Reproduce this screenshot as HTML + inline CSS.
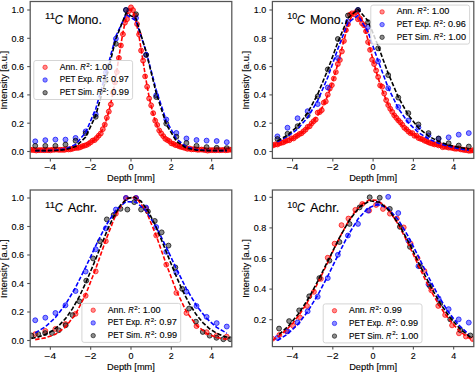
<!DOCTYPE html>
<html><head><meta charset="utf-8"><style>
html,body{margin:0;padding:0;background:#fff;width:475px;height:372px;overflow:hidden}
svg text{font-family:"Liberation Sans", sans-serif}
</style></head><body>
<svg width="475" height="372" viewBox="0 0 475 372" style="display:block">
<defs>
<clipPath id="cTL"><rect x="30.2" y="1.5" width="201.60" height="156.90"/></clipPath>
<clipPath id="cTR"><rect x="272.4" y="1.5" width="201.40" height="156.90"/></clipPath>
<clipPath id="cBL"><rect x="30.2" y="190.0" width="201.60" height="156.80"/></clipPath>
<clipPath id="cBR"><rect x="272.4" y="190.0" width="201.40" height="156.60"/></clipPath>
</defs>
<rect width="475" height="372" fill="#fff"/>
<g clip-path="url(#cTL)">
<circle cx="30.20" cy="149.67" r="2.45" fill="#ff0000" fill-opacity="0.55" stroke="#ff0000" stroke-opacity="0.8" stroke-width="1.0"/>
<circle cx="32.22" cy="149.98" r="2.45" fill="#ff0000" fill-opacity="0.55" stroke="#ff0000" stroke-opacity="0.8" stroke-width="1.0"/>
<circle cx="34.23" cy="150.06" r="2.45" fill="#ff0000" fill-opacity="0.55" stroke="#ff0000" stroke-opacity="0.8" stroke-width="1.0"/>
<circle cx="36.25" cy="150.50" r="2.45" fill="#ff0000" fill-opacity="0.55" stroke="#ff0000" stroke-opacity="0.8" stroke-width="1.0"/>
<circle cx="38.26" cy="150.14" r="2.45" fill="#ff0000" fill-opacity="0.55" stroke="#ff0000" stroke-opacity="0.8" stroke-width="1.0"/>
<circle cx="40.28" cy="150.15" r="2.45" fill="#ff0000" fill-opacity="0.55" stroke="#ff0000" stroke-opacity="0.8" stroke-width="1.0"/>
<circle cx="42.30" cy="150.08" r="2.45" fill="#ff0000" fill-opacity="0.55" stroke="#ff0000" stroke-opacity="0.8" stroke-width="1.0"/>
<circle cx="44.31" cy="150.20" r="2.45" fill="#ff0000" fill-opacity="0.55" stroke="#ff0000" stroke-opacity="0.8" stroke-width="1.0"/>
<circle cx="46.33" cy="150.05" r="2.45" fill="#ff0000" fill-opacity="0.55" stroke="#ff0000" stroke-opacity="0.8" stroke-width="1.0"/>
<circle cx="48.34" cy="150.14" r="2.45" fill="#ff0000" fill-opacity="0.55" stroke="#ff0000" stroke-opacity="0.8" stroke-width="1.0"/>
<circle cx="50.36" cy="150.31" r="2.45" fill="#ff0000" fill-opacity="0.55" stroke="#ff0000" stroke-opacity="0.8" stroke-width="1.0"/>
<circle cx="52.38" cy="149.78" r="2.45" fill="#ff0000" fill-opacity="0.55" stroke="#ff0000" stroke-opacity="0.8" stroke-width="1.0"/>
<circle cx="54.39" cy="149.74" r="2.45" fill="#ff0000" fill-opacity="0.55" stroke="#ff0000" stroke-opacity="0.8" stroke-width="1.0"/>
<circle cx="56.41" cy="149.50" r="2.45" fill="#ff0000" fill-opacity="0.55" stroke="#ff0000" stroke-opacity="0.8" stroke-width="1.0"/>
<circle cx="58.42" cy="149.83" r="2.45" fill="#ff0000" fill-opacity="0.55" stroke="#ff0000" stroke-opacity="0.8" stroke-width="1.0"/>
<circle cx="60.44" cy="149.86" r="2.45" fill="#ff0000" fill-opacity="0.55" stroke="#ff0000" stroke-opacity="0.8" stroke-width="1.0"/>
<circle cx="62.46" cy="149.79" r="2.45" fill="#ff0000" fill-opacity="0.55" stroke="#ff0000" stroke-opacity="0.8" stroke-width="1.0"/>
<circle cx="64.47" cy="149.91" r="2.45" fill="#ff0000" fill-opacity="0.55" stroke="#ff0000" stroke-opacity="0.8" stroke-width="1.0"/>
<circle cx="66.49" cy="149.16" r="2.45" fill="#ff0000" fill-opacity="0.55" stroke="#ff0000" stroke-opacity="0.8" stroke-width="1.0"/>
<circle cx="68.50" cy="149.47" r="2.45" fill="#ff0000" fill-opacity="0.55" stroke="#ff0000" stroke-opacity="0.8" stroke-width="1.0"/>
<circle cx="70.52" cy="149.27" r="2.45" fill="#ff0000" fill-opacity="0.55" stroke="#ff0000" stroke-opacity="0.8" stroke-width="1.0"/>
<circle cx="72.54" cy="148.76" r="2.45" fill="#ff0000" fill-opacity="0.55" stroke="#ff0000" stroke-opacity="0.8" stroke-width="1.0"/>
<circle cx="74.55" cy="148.01" r="2.45" fill="#ff0000" fill-opacity="0.55" stroke="#ff0000" stroke-opacity="0.8" stroke-width="1.0"/>
<circle cx="76.57" cy="147.92" r="2.45" fill="#ff0000" fill-opacity="0.55" stroke="#ff0000" stroke-opacity="0.8" stroke-width="1.0"/>
<circle cx="78.58" cy="147.78" r="2.45" fill="#ff0000" fill-opacity="0.55" stroke="#ff0000" stroke-opacity="0.8" stroke-width="1.0"/>
<circle cx="80.60" cy="147.16" r="2.45" fill="#ff0000" fill-opacity="0.55" stroke="#ff0000" stroke-opacity="0.8" stroke-width="1.0"/>
<circle cx="82.62" cy="146.16" r="2.45" fill="#ff0000" fill-opacity="0.55" stroke="#ff0000" stroke-opacity="0.8" stroke-width="1.0"/>
<circle cx="84.63" cy="145.64" r="2.45" fill="#ff0000" fill-opacity="0.55" stroke="#ff0000" stroke-opacity="0.8" stroke-width="1.0"/>
<circle cx="86.65" cy="144.96" r="2.45" fill="#ff0000" fill-opacity="0.55" stroke="#ff0000" stroke-opacity="0.8" stroke-width="1.0"/>
<circle cx="88.66" cy="143.81" r="2.45" fill="#ff0000" fill-opacity="0.55" stroke="#ff0000" stroke-opacity="0.8" stroke-width="1.0"/>
<circle cx="90.68" cy="142.35" r="2.45" fill="#ff0000" fill-opacity="0.55" stroke="#ff0000" stroke-opacity="0.8" stroke-width="1.0"/>
<circle cx="92.70" cy="140.57" r="2.45" fill="#ff0000" fill-opacity="0.55" stroke="#ff0000" stroke-opacity="0.8" stroke-width="1.0"/>
<circle cx="94.71" cy="140.07" r="2.45" fill="#ff0000" fill-opacity="0.55" stroke="#ff0000" stroke-opacity="0.8" stroke-width="1.0"/>
<circle cx="96.73" cy="137.93" r="2.45" fill="#ff0000" fill-opacity="0.55" stroke="#ff0000" stroke-opacity="0.8" stroke-width="1.0"/>
<circle cx="98.74" cy="135.65" r="2.45" fill="#ff0000" fill-opacity="0.55" stroke="#ff0000" stroke-opacity="0.8" stroke-width="1.0"/>
<circle cx="100.76" cy="133.46" r="2.45" fill="#ff0000" fill-opacity="0.55" stroke="#ff0000" stroke-opacity="0.8" stroke-width="1.0"/>
<circle cx="102.78" cy="129.18" r="2.45" fill="#ff0000" fill-opacity="0.55" stroke="#ff0000" stroke-opacity="0.8" stroke-width="1.0"/>
<circle cx="104.79" cy="124.71" r="2.45" fill="#ff0000" fill-opacity="0.55" stroke="#ff0000" stroke-opacity="0.8" stroke-width="1.0"/>
<circle cx="106.81" cy="117.77" r="2.45" fill="#ff0000" fill-opacity="0.55" stroke="#ff0000" stroke-opacity="0.8" stroke-width="1.0"/>
<circle cx="108.82" cy="111.57" r="2.45" fill="#ff0000" fill-opacity="0.55" stroke="#ff0000" stroke-opacity="0.8" stroke-width="1.0"/>
<circle cx="110.84" cy="104.37" r="2.45" fill="#ff0000" fill-opacity="0.55" stroke="#ff0000" stroke-opacity="0.8" stroke-width="1.0"/>
<circle cx="112.86" cy="92.67" r="2.45" fill="#ff0000" fill-opacity="0.55" stroke="#ff0000" stroke-opacity="0.8" stroke-width="1.0"/>
<circle cx="114.87" cy="82.49" r="2.45" fill="#ff0000" fill-opacity="0.55" stroke="#ff0000" stroke-opacity="0.8" stroke-width="1.0"/>
<circle cx="116.89" cy="72.03" r="2.45" fill="#ff0000" fill-opacity="0.55" stroke="#ff0000" stroke-opacity="0.8" stroke-width="1.0"/>
<circle cx="118.90" cy="58.04" r="2.45" fill="#ff0000" fill-opacity="0.55" stroke="#ff0000" stroke-opacity="0.8" stroke-width="1.0"/>
<circle cx="120.92" cy="45.49" r="2.45" fill="#ff0000" fill-opacity="0.55" stroke="#ff0000" stroke-opacity="0.8" stroke-width="1.0"/>
<circle cx="122.94" cy="34.27" r="2.45" fill="#ff0000" fill-opacity="0.55" stroke="#ff0000" stroke-opacity="0.8" stroke-width="1.0"/>
<circle cx="124.95" cy="22.68" r="2.45" fill="#ff0000" fill-opacity="0.55" stroke="#ff0000" stroke-opacity="0.8" stroke-width="1.0"/>
<circle cx="126.97" cy="19.23" r="2.45" fill="#ff0000" fill-opacity="0.55" stroke="#ff0000" stroke-opacity="0.8" stroke-width="1.0"/>
<circle cx="128.98" cy="10.97" r="2.45" fill="#ff0000" fill-opacity="0.55" stroke="#ff0000" stroke-opacity="0.8" stroke-width="1.0"/>
<circle cx="131.00" cy="7.36" r="2.45" fill="#ff0000" fill-opacity="0.55" stroke="#ff0000" stroke-opacity="0.8" stroke-width="1.0"/>
<circle cx="133.02" cy="10.08" r="2.45" fill="#ff0000" fill-opacity="0.55" stroke="#ff0000" stroke-opacity="0.8" stroke-width="1.0"/>
<circle cx="135.03" cy="15.40" r="2.45" fill="#ff0000" fill-opacity="0.55" stroke="#ff0000" stroke-opacity="0.8" stroke-width="1.0"/>
<circle cx="137.05" cy="24.09" r="2.45" fill="#ff0000" fill-opacity="0.55" stroke="#ff0000" stroke-opacity="0.8" stroke-width="1.0"/>
<circle cx="139.06" cy="34.43" r="2.45" fill="#ff0000" fill-opacity="0.55" stroke="#ff0000" stroke-opacity="0.8" stroke-width="1.0"/>
<circle cx="141.08" cy="50.57" r="2.45" fill="#ff0000" fill-opacity="0.55" stroke="#ff0000" stroke-opacity="0.8" stroke-width="1.0"/>
<circle cx="143.10" cy="60.61" r="2.45" fill="#ff0000" fill-opacity="0.55" stroke="#ff0000" stroke-opacity="0.8" stroke-width="1.0"/>
<circle cx="145.11" cy="76.40" r="2.45" fill="#ff0000" fill-opacity="0.55" stroke="#ff0000" stroke-opacity="0.8" stroke-width="1.0"/>
<circle cx="147.13" cy="86.74" r="2.45" fill="#ff0000" fill-opacity="0.55" stroke="#ff0000" stroke-opacity="0.8" stroke-width="1.0"/>
<circle cx="149.14" cy="98.50" r="2.45" fill="#ff0000" fill-opacity="0.55" stroke="#ff0000" stroke-opacity="0.8" stroke-width="1.0"/>
<circle cx="151.16" cy="105.38" r="2.45" fill="#ff0000" fill-opacity="0.55" stroke="#ff0000" stroke-opacity="0.8" stroke-width="1.0"/>
<circle cx="153.18" cy="113.18" r="2.45" fill="#ff0000" fill-opacity="0.55" stroke="#ff0000" stroke-opacity="0.8" stroke-width="1.0"/>
<circle cx="155.19" cy="120.69" r="2.45" fill="#ff0000" fill-opacity="0.55" stroke="#ff0000" stroke-opacity="0.8" stroke-width="1.0"/>
<circle cx="157.21" cy="124.94" r="2.45" fill="#ff0000" fill-opacity="0.55" stroke="#ff0000" stroke-opacity="0.8" stroke-width="1.0"/>
<circle cx="159.22" cy="130.42" r="2.45" fill="#ff0000" fill-opacity="0.55" stroke="#ff0000" stroke-opacity="0.8" stroke-width="1.0"/>
<circle cx="161.24" cy="133.43" r="2.45" fill="#ff0000" fill-opacity="0.55" stroke="#ff0000" stroke-opacity="0.8" stroke-width="1.0"/>
<circle cx="163.26" cy="136.15" r="2.45" fill="#ff0000" fill-opacity="0.55" stroke="#ff0000" stroke-opacity="0.8" stroke-width="1.0"/>
<circle cx="165.27" cy="138.80" r="2.45" fill="#ff0000" fill-opacity="0.55" stroke="#ff0000" stroke-opacity="0.8" stroke-width="1.0"/>
<circle cx="167.29" cy="140.07" r="2.45" fill="#ff0000" fill-opacity="0.55" stroke="#ff0000" stroke-opacity="0.8" stroke-width="1.0"/>
<circle cx="169.30" cy="141.09" r="2.45" fill="#ff0000" fill-opacity="0.55" stroke="#ff0000" stroke-opacity="0.8" stroke-width="1.0"/>
<circle cx="171.32" cy="143.33" r="2.45" fill="#ff0000" fill-opacity="0.55" stroke="#ff0000" stroke-opacity="0.8" stroke-width="1.0"/>
<circle cx="173.34" cy="143.83" r="2.45" fill="#ff0000" fill-opacity="0.55" stroke="#ff0000" stroke-opacity="0.8" stroke-width="1.0"/>
<circle cx="175.35" cy="145.09" r="2.45" fill="#ff0000" fill-opacity="0.55" stroke="#ff0000" stroke-opacity="0.8" stroke-width="1.0"/>
<circle cx="177.37" cy="145.37" r="2.45" fill="#ff0000" fill-opacity="0.55" stroke="#ff0000" stroke-opacity="0.8" stroke-width="1.0"/>
<circle cx="179.38" cy="146.44" r="2.45" fill="#ff0000" fill-opacity="0.55" stroke="#ff0000" stroke-opacity="0.8" stroke-width="1.0"/>
<circle cx="181.40" cy="146.99" r="2.45" fill="#ff0000" fill-opacity="0.55" stroke="#ff0000" stroke-opacity="0.8" stroke-width="1.0"/>
<circle cx="183.42" cy="147.52" r="2.45" fill="#ff0000" fill-opacity="0.55" stroke="#ff0000" stroke-opacity="0.8" stroke-width="1.0"/>
<circle cx="185.43" cy="148.07" r="2.45" fill="#ff0000" fill-opacity="0.55" stroke="#ff0000" stroke-opacity="0.8" stroke-width="1.0"/>
<circle cx="187.45" cy="148.85" r="2.45" fill="#ff0000" fill-opacity="0.55" stroke="#ff0000" stroke-opacity="0.8" stroke-width="1.0"/>
<circle cx="189.46" cy="148.47" r="2.45" fill="#ff0000" fill-opacity="0.55" stroke="#ff0000" stroke-opacity="0.8" stroke-width="1.0"/>
<circle cx="191.48" cy="149.40" r="2.45" fill="#ff0000" fill-opacity="0.55" stroke="#ff0000" stroke-opacity="0.8" stroke-width="1.0"/>
<circle cx="193.50" cy="149.22" r="2.45" fill="#ff0000" fill-opacity="0.55" stroke="#ff0000" stroke-opacity="0.8" stroke-width="1.0"/>
<circle cx="195.51" cy="149.30" r="2.45" fill="#ff0000" fill-opacity="0.55" stroke="#ff0000" stroke-opacity="0.8" stroke-width="1.0"/>
<circle cx="197.53" cy="149.79" r="2.45" fill="#ff0000" fill-opacity="0.55" stroke="#ff0000" stroke-opacity="0.8" stroke-width="1.0"/>
<circle cx="199.54" cy="149.67" r="2.45" fill="#ff0000" fill-opacity="0.55" stroke="#ff0000" stroke-opacity="0.8" stroke-width="1.0"/>
<circle cx="201.56" cy="149.52" r="2.45" fill="#ff0000" fill-opacity="0.55" stroke="#ff0000" stroke-opacity="0.8" stroke-width="1.0"/>
<circle cx="203.58" cy="149.87" r="2.45" fill="#ff0000" fill-opacity="0.55" stroke="#ff0000" stroke-opacity="0.8" stroke-width="1.0"/>
<circle cx="205.59" cy="150.12" r="2.45" fill="#ff0000" fill-opacity="0.55" stroke="#ff0000" stroke-opacity="0.8" stroke-width="1.0"/>
<circle cx="207.61" cy="150.63" r="2.45" fill="#ff0000" fill-opacity="0.55" stroke="#ff0000" stroke-opacity="0.8" stroke-width="1.0"/>
<circle cx="209.62" cy="150.21" r="2.45" fill="#ff0000" fill-opacity="0.55" stroke="#ff0000" stroke-opacity="0.8" stroke-width="1.0"/>
<circle cx="211.64" cy="150.15" r="2.45" fill="#ff0000" fill-opacity="0.55" stroke="#ff0000" stroke-opacity="0.8" stroke-width="1.0"/>
<circle cx="213.66" cy="150.15" r="2.45" fill="#ff0000" fill-opacity="0.55" stroke="#ff0000" stroke-opacity="0.8" stroke-width="1.0"/>
<circle cx="215.67" cy="150.27" r="2.45" fill="#ff0000" fill-opacity="0.55" stroke="#ff0000" stroke-opacity="0.8" stroke-width="1.0"/>
<circle cx="217.69" cy="149.97" r="2.45" fill="#ff0000" fill-opacity="0.55" stroke="#ff0000" stroke-opacity="0.8" stroke-width="1.0"/>
<circle cx="219.70" cy="150.20" r="2.45" fill="#ff0000" fill-opacity="0.55" stroke="#ff0000" stroke-opacity="0.8" stroke-width="1.0"/>
<circle cx="221.72" cy="150.10" r="2.45" fill="#ff0000" fill-opacity="0.55" stroke="#ff0000" stroke-opacity="0.8" stroke-width="1.0"/>
<circle cx="223.74" cy="149.92" r="2.45" fill="#ff0000" fill-opacity="0.55" stroke="#ff0000" stroke-opacity="0.8" stroke-width="1.0"/>
<circle cx="225.75" cy="150.27" r="2.45" fill="#ff0000" fill-opacity="0.55" stroke="#ff0000" stroke-opacity="0.8" stroke-width="1.0"/>
<circle cx="227.77" cy="150.15" r="2.45" fill="#ff0000" fill-opacity="0.55" stroke="#ff0000" stroke-opacity="0.8" stroke-width="1.0"/>
<circle cx="229.78" cy="149.59" r="2.45" fill="#ff0000" fill-opacity="0.55" stroke="#ff0000" stroke-opacity="0.8" stroke-width="1.0"/>
<circle cx="231.80" cy="149.88" r="2.45" fill="#ff0000" fill-opacity="0.55" stroke="#ff0000" stroke-opacity="0.8" stroke-width="1.0"/>
<circle cx="35.24" cy="141.31" r="2.45" fill="#0000ff" fill-opacity="0.45" stroke="#0000ff" stroke-opacity="0.72" stroke-width="1.0"/>
<circle cx="45.32" cy="140.18" r="2.45" fill="#0000ff" fill-opacity="0.45" stroke="#0000ff" stroke-opacity="0.72" stroke-width="1.0"/>
<circle cx="55.40" cy="139.61" r="2.45" fill="#0000ff" fill-opacity="0.45" stroke="#0000ff" stroke-opacity="0.72" stroke-width="1.0"/>
<circle cx="65.48" cy="139.61" r="2.45" fill="#0000ff" fill-opacity="0.45" stroke="#0000ff" stroke-opacity="0.72" stroke-width="1.0"/>
<circle cx="75.56" cy="137.92" r="2.45" fill="#0000ff" fill-opacity="0.45" stroke="#0000ff" stroke-opacity="0.72" stroke-width="1.0"/>
<circle cx="85.64" cy="131.41" r="2.45" fill="#0000ff" fill-opacity="0.45" stroke="#0000ff" stroke-opacity="0.72" stroke-width="1.0"/>
<circle cx="95.72" cy="114.29" r="2.45" fill="#0000ff" fill-opacity="0.45" stroke="#0000ff" stroke-opacity="0.72" stroke-width="1.0"/>
<circle cx="105.80" cy="72.55" r="2.45" fill="#0000ff" fill-opacity="0.45" stroke="#0000ff" stroke-opacity="0.72" stroke-width="1.0"/>
<circle cx="115.88" cy="38.72" r="2.45" fill="#0000ff" fill-opacity="0.45" stroke="#0000ff" stroke-opacity="0.72" stroke-width="1.0"/>
<circle cx="125.96" cy="10.00" r="2.45" fill="#0000ff" fill-opacity="0.45" stroke="#0000ff" stroke-opacity="0.72" stroke-width="1.0"/>
<circle cx="136.04" cy="18.07" r="2.45" fill="#0000ff" fill-opacity="0.45" stroke="#0000ff" stroke-opacity="0.72" stroke-width="1.0"/>
<circle cx="146.12" cy="54.86" r="2.45" fill="#0000ff" fill-opacity="0.45" stroke="#0000ff" stroke-opacity="0.72" stroke-width="1.0"/>
<circle cx="156.20" cy="95.32" r="2.45" fill="#0000ff" fill-opacity="0.45" stroke="#0000ff" stroke-opacity="0.72" stroke-width="1.0"/>
<circle cx="166.28" cy="119.52" r="2.45" fill="#0000ff" fill-opacity="0.45" stroke="#0000ff" stroke-opacity="0.72" stroke-width="1.0"/>
<circle cx="176.36" cy="132.96" r="2.45" fill="#0000ff" fill-opacity="0.45" stroke="#0000ff" stroke-opacity="0.72" stroke-width="1.0"/>
<circle cx="186.44" cy="138.48" r="2.45" fill="#0000ff" fill-opacity="0.45" stroke="#0000ff" stroke-opacity="0.72" stroke-width="1.0"/>
<circle cx="196.52" cy="140.04" r="2.45" fill="#0000ff" fill-opacity="0.45" stroke="#0000ff" stroke-opacity="0.72" stroke-width="1.0"/>
<circle cx="206.60" cy="140.60" r="2.45" fill="#0000ff" fill-opacity="0.45" stroke="#0000ff" stroke-opacity="0.72" stroke-width="1.0"/>
<circle cx="216.68" cy="141.03" r="2.45" fill="#0000ff" fill-opacity="0.45" stroke="#0000ff" stroke-opacity="0.72" stroke-width="1.0"/>
<circle cx="226.76" cy="142.16" r="2.45" fill="#0000ff" fill-opacity="0.45" stroke="#0000ff" stroke-opacity="0.72" stroke-width="1.0"/>
<circle cx="35.24" cy="145.84" r="2.45" fill="#000000" fill-opacity="0.45" stroke="#000000" stroke-opacity="0.72" stroke-width="1.0"/>
<circle cx="45.32" cy="145.84" r="2.45" fill="#000000" fill-opacity="0.45" stroke="#000000" stroke-opacity="0.72" stroke-width="1.0"/>
<circle cx="55.40" cy="145.84" r="2.45" fill="#000000" fill-opacity="0.45" stroke="#000000" stroke-opacity="0.72" stroke-width="1.0"/>
<circle cx="65.48" cy="144.57" r="2.45" fill="#000000" fill-opacity="0.45" stroke="#000000" stroke-opacity="0.72" stroke-width="1.0"/>
<circle cx="75.56" cy="140.75" r="2.45" fill="#000000" fill-opacity="0.45" stroke="#000000" stroke-opacity="0.72" stroke-width="1.0"/>
<circle cx="85.64" cy="133.25" r="2.45" fill="#000000" fill-opacity="0.45" stroke="#000000" stroke-opacity="0.72" stroke-width="1.0"/>
<circle cx="95.72" cy="116.83" r="2.45" fill="#000000" fill-opacity="0.45" stroke="#000000" stroke-opacity="0.72" stroke-width="1.0"/>
<circle cx="105.80" cy="80.66" r="2.45" fill="#000000" fill-opacity="0.45" stroke="#000000" stroke-opacity="0.72" stroke-width="1.0"/>
<circle cx="115.88" cy="43.82" r="2.45" fill="#000000" fill-opacity="0.45" stroke="#000000" stroke-opacity="0.72" stroke-width="1.0"/>
<circle cx="125.96" cy="10.00" r="2.45" fill="#000000" fill-opacity="0.45" stroke="#000000" stroke-opacity="0.72" stroke-width="1.0"/>
<circle cx="136.04" cy="14.25" r="2.45" fill="#000000" fill-opacity="0.45" stroke="#000000" stroke-opacity="0.72" stroke-width="1.0"/>
<circle cx="146.12" cy="54.86" r="2.45" fill="#000000" fill-opacity="0.45" stroke="#000000" stroke-opacity="0.72" stroke-width="1.0"/>
<circle cx="156.20" cy="97.02" r="2.45" fill="#000000" fill-opacity="0.45" stroke="#000000" stroke-opacity="0.72" stroke-width="1.0"/>
<circle cx="166.28" cy="123.62" r="2.45" fill="#000000" fill-opacity="0.45" stroke="#000000" stroke-opacity="0.72" stroke-width="1.0"/>
<circle cx="176.36" cy="136.78" r="2.45" fill="#000000" fill-opacity="0.45" stroke="#000000" stroke-opacity="0.72" stroke-width="1.0"/>
<circle cx="186.44" cy="143.01" r="2.45" fill="#000000" fill-opacity="0.45" stroke="#000000" stroke-opacity="0.72" stroke-width="1.0"/>
<circle cx="196.52" cy="145.84" r="2.45" fill="#000000" fill-opacity="0.45" stroke="#000000" stroke-opacity="0.72" stroke-width="1.0"/>
<circle cx="206.60" cy="147.11" r="2.45" fill="#000000" fill-opacity="0.45" stroke="#000000" stroke-opacity="0.72" stroke-width="1.0"/>
<circle cx="216.68" cy="147.82" r="2.45" fill="#000000" fill-opacity="0.45" stroke="#000000" stroke-opacity="0.72" stroke-width="1.0"/>
<circle cx="226.76" cy="148.10" r="2.45" fill="#000000" fill-opacity="0.45" stroke="#000000" stroke-opacity="0.72" stroke-width="1.0"/>
<path d="M30.2,150.1 L32.2,150.1 L34.2,150.1 L36.2,150.1 L38.3,150.1 L40.3,150.1 L42.3,150.1 L44.3,150.1 L46.3,150.0 L48.3,150.0 L50.4,150.0 L52.4,150.0 L54.4,149.9 L56.4,149.9 L58.4,149.8 L60.4,149.8 L62.5,149.7 L64.5,149.5 L66.5,149.4 L68.5,149.2 L70.5,149.0 L72.5,148.7 L74.6,148.4 L76.6,148.0 L78.6,147.5 L80.6,147.0 L82.6,146.3 L84.6,145.6 L86.6,144.7 L88.7,143.7 L90.7,142.6 L92.7,141.2 L94.7,139.6 L96.7,137.7 L98.7,135.3 L100.8,132.4 L102.8,128.7 L104.8,124.2 L106.8,118.5 L108.8,111.5 L110.8,103.1 L112.9,93.3 L114.9,82.1 L116.9,70.0 L118.9,57.2 L120.9,44.6 L122.9,32.8 L125.0,22.7 L127.0,15.1 L129.0,10.5 L131.0,9.3 L133.0,11.7 L135.0,17.4 L137.0,26.0 L139.1,36.8 L141.1,49.0 L143.1,61.7 L145.1,74.3 L147.1,86.1 L149.1,96.8 L151.2,106.2 L153.2,114.1 L155.2,120.6 L157.2,125.9 L159.2,130.1 L161.2,133.5 L163.3,136.2 L165.3,138.4 L167.3,140.2 L169.3,141.7 L171.3,143.0 L173.3,144.1 L175.4,145.0 L177.4,145.9 L179.4,146.6 L181.4,147.2 L183.4,147.7 L185.4,148.1 L187.4,148.5 L189.5,148.8 L191.5,149.1 L193.5,149.3 L195.5,149.5 L197.5,149.6 L199.5,149.7 L201.6,149.8 L203.6,149.9 L205.6,149.9 L207.6,150.0 L209.6,150.0 L211.6,150.0 L213.7,150.0 L215.7,150.0 L217.7,150.1 L219.7,150.1 L221.7,150.1 L223.7,150.1 L225.8,150.1 L227.8,150.1 L229.8,150.1 L231.8,150.1" fill="none" stroke="#ff0000" stroke-width="1.6" stroke-dasharray="4.4 1.9" stroke-linejoin="round"/>
<path d="M35.2,150.6 L45.3,150.6 L55.4,150.3 L65.5,148.9 L75.6,144.4 L85.6,132.6 L95.7,109.0 L105.8,73.5 L115.9,36.1 L126.0,14.4 L136.0,20.8 L146.1,51.4 L156.2,89.9 L166.3,120.8 L176.4,138.9 L186.4,146.9 L196.5,149.7 L206.6,150.5 L216.7,150.6 L226.8,150.6" fill="none" stroke="#0000ff" stroke-width="1.6" stroke-dasharray="4.4 1.9" stroke-linejoin="round"/>
<path d="M35.2,150.6 L45.3,150.6 L55.4,150.5 L65.5,149.7 L75.6,146.6 L85.6,137.1 L95.7,115.6 L105.8,79.7 L115.9,38.8 L126.0,13.0 L136.0,18.6 L146.1,51.8 L156.2,93.0 L166.3,124.4 L176.4,141.3 L186.4,148.1 L196.5,150.1 L206.6,150.6 L216.7,150.6 L226.8,150.6" fill="none" stroke="#000000" stroke-width="1.6" stroke-dasharray="4.4 1.9" stroke-linejoin="round"/>
</g>
<rect x="30.2" y="1.5" width="201.60" height="156.90" fill="none" stroke="#555" stroke-width="1.25"/>
<line x1="50.36" y1="158.4" x2="50.36" y2="161.4" stroke="#555" stroke-width="1.1"/>
<text x="50.36" y="170.40" font-size="8.32" textLength="11.57" lengthAdjust="spacingAndGlyphs" text-anchor="middle" fill="#000" stroke="#000" stroke-width="0.12">−4</text>
<line x1="90.68" y1="158.4" x2="90.68" y2="161.4" stroke="#555" stroke-width="1.1"/>
<text x="90.68" y="170.40" font-size="8.32" textLength="11.57" lengthAdjust="spacingAndGlyphs" text-anchor="middle" fill="#000" stroke="#000" stroke-width="0.12">−2</text>
<line x1="131.00" y1="158.4" x2="131.00" y2="161.4" stroke="#555" stroke-width="1.1"/>
<text x="131.00" y="170.40" font-size="8.32" textLength="4.99" lengthAdjust="spacingAndGlyphs" text-anchor="middle" fill="#000" stroke="#000" stroke-width="0.12">0</text>
<line x1="171.32" y1="158.4" x2="171.32" y2="161.4" stroke="#555" stroke-width="1.1"/>
<text x="171.32" y="170.40" font-size="8.32" textLength="4.99" lengthAdjust="spacingAndGlyphs" text-anchor="middle" fill="#000" stroke="#000" stroke-width="0.12">2</text>
<line x1="211.64" y1="158.4" x2="211.64" y2="161.4" stroke="#555" stroke-width="1.1"/>
<text x="211.64" y="170.40" font-size="8.32" textLength="4.99" lengthAdjust="spacingAndGlyphs" text-anchor="middle" fill="#000" stroke="#000" stroke-width="0.12">4</text>
<line x1="27.2" y1="151.50" x2="30.2" y2="151.50" stroke="#555" stroke-width="1.1"/>
<text x="24.10" y="154.80" font-size="8.32" textLength="12.48" lengthAdjust="spacingAndGlyphs" text-anchor="end" fill="#000" stroke="#000" stroke-width="0.12">0.0</text>
<line x1="27.2" y1="123.20" x2="30.2" y2="123.20" stroke="#555" stroke-width="1.1"/>
<text x="24.10" y="126.50" font-size="8.32" textLength="12.48" lengthAdjust="spacingAndGlyphs" text-anchor="end" fill="#000" stroke="#000" stroke-width="0.12">0.2</text>
<line x1="27.2" y1="94.90" x2="30.2" y2="94.90" stroke="#555" stroke-width="1.1"/>
<text x="24.10" y="98.20" font-size="8.32" textLength="12.48" lengthAdjust="spacingAndGlyphs" text-anchor="end" fill="#000" stroke="#000" stroke-width="0.12">0.4</text>
<line x1="27.2" y1="66.60" x2="30.2" y2="66.60" stroke="#555" stroke-width="1.1"/>
<text x="24.10" y="69.90" font-size="8.32" textLength="12.48" lengthAdjust="spacingAndGlyphs" text-anchor="end" fill="#000" stroke="#000" stroke-width="0.12">0.6</text>
<line x1="27.2" y1="38.30" x2="30.2" y2="38.30" stroke="#555" stroke-width="1.1"/>
<text x="24.10" y="41.60" font-size="8.32" textLength="12.48" lengthAdjust="spacingAndGlyphs" text-anchor="end" fill="#000" stroke="#000" stroke-width="0.12">0.8</text>
<line x1="27.2" y1="10.00" x2="30.2" y2="10.00" stroke="#555" stroke-width="1.1"/>
<text x="24.10" y="13.30" font-size="8.32" textLength="12.48" lengthAdjust="spacingAndGlyphs" text-anchor="end" fill="#000" stroke="#000" stroke-width="0.12">1.0</text>
<text x="131.00" y="181.40" font-size="8.32" textLength="47.82" lengthAdjust="spacingAndGlyphs" text-anchor="middle" fill="#000" stroke="#000" stroke-width="0.12">Depth [mm]</text>
<text transform="translate(6.80,80.15) rotate(-90)" x="0" y="0" text-anchor="middle" font-size="8.32" textLength="58.72" lengthAdjust="spacingAndGlyphs" fill="#000" stroke="#000" stroke-width="0.12">Intensity [a.u.]</text>
<text x="45.10" y="19.20" font-size="8.32" textLength="9.99" lengthAdjust="spacingAndGlyphs" fill="#000" stroke="#000" stroke-width="0.12">11</text>
<text x="54.70" y="23.50" font-size="12.19" textLength="8.03" lengthAdjust="spacingAndGlyphs" font-style="italic" fill="#000" stroke="#000" stroke-width="0.12">C</text>
<text x="67.70" y="23.50" font-size="11.98" textLength="34.13" lengthAdjust="spacingAndGlyphs" fill="#000" stroke="#000" stroke-width="0.12">Mono.</text>
<rect x="33.8" y="60.5" width="98.8" height="39" rx="2.2" ry="2.2" fill="#fff" fill-opacity="0.8" stroke="#d0d0d0" stroke-width="0.9"/>
<circle cx="45.10" cy="67.30" r="2.2" fill="#ff0000" fill-opacity="0.45" stroke="#ff0000" stroke-opacity="0.72" stroke-width="0.8"/>
<text x="59.70" y="69.70" font-size="8.37" textLength="17.93" lengthAdjust="spacingAndGlyphs" fill="#000" stroke="#000" stroke-width="0.12">Ann.</text>
<text x="80.14" y="69.70" font-size="8.37" textLength="5.49" lengthAdjust="spacingAndGlyphs" font-style="italic" fill="#000" stroke="#000" stroke-width="0.12">R</text>
<text x="86.23" y="66.64" font-size="5.71" textLength="3.43" lengthAdjust="spacingAndGlyphs" fill="#000" stroke="#000" stroke-width="0.12">2</text>
<text x="89.66" y="69.70" font-size="8.37" textLength="22.76" lengthAdjust="spacingAndGlyphs" fill="#000" stroke="#000" stroke-width="0.12">: 1.00</text>
<circle cx="45.10" cy="80.00" r="2.2" fill="#0000ff" fill-opacity="0.45" stroke="#0000ff" stroke-opacity="0.72" stroke-width="0.8"/>
<text x="59.70" y="82.40" font-size="8.37" textLength="34.29" lengthAdjust="spacingAndGlyphs" fill="#000" stroke="#000" stroke-width="0.12">PET Exp.</text>
<text x="96.50" y="82.40" font-size="8.37" textLength="5.49" lengthAdjust="spacingAndGlyphs" font-style="italic" fill="#000" stroke="#000" stroke-width="0.12">R</text>
<text x="102.59" y="79.34" font-size="5.71" textLength="3.43" lengthAdjust="spacingAndGlyphs" fill="#000" stroke="#000" stroke-width="0.12">2</text>
<text x="106.01" y="82.40" font-size="8.37" textLength="22.76" lengthAdjust="spacingAndGlyphs" fill="#000" stroke="#000" stroke-width="0.12">: 0.97</text>
<circle cx="45.10" cy="92.70" r="2.2" fill="#000000" fill-opacity="0.45" stroke="#000000" stroke-opacity="0.72" stroke-width="0.8"/>
<text x="59.70" y="95.10" font-size="8.37" textLength="34.51" lengthAdjust="spacingAndGlyphs" fill="#000" stroke="#000" stroke-width="0.12">PET Sim.</text>
<text x="96.72" y="95.10" font-size="8.37" textLength="5.49" lengthAdjust="spacingAndGlyphs" font-style="italic" fill="#000" stroke="#000" stroke-width="0.12">R</text>
<text x="102.81" y="92.04" font-size="5.71" textLength="3.43" lengthAdjust="spacingAndGlyphs" fill="#000" stroke="#000" stroke-width="0.12">2</text>
<text x="106.24" y="95.10" font-size="8.37" textLength="22.76" lengthAdjust="spacingAndGlyphs" fill="#000" stroke="#000" stroke-width="0.12">: 0.99</text>
<g clip-path="url(#cTR)">
<circle cx="271.39" cy="145.79" r="2.45" fill="#ff0000" fill-opacity="0.55" stroke="#ff0000" stroke-opacity="0.8" stroke-width="1.0"/>
<circle cx="273.41" cy="145.27" r="2.45" fill="#ff0000" fill-opacity="0.55" stroke="#ff0000" stroke-opacity="0.8" stroke-width="1.0"/>
<circle cx="275.42" cy="144.34" r="2.45" fill="#ff0000" fill-opacity="0.55" stroke="#ff0000" stroke-opacity="0.8" stroke-width="1.0"/>
<circle cx="277.44" cy="144.48" r="2.45" fill="#ff0000" fill-opacity="0.55" stroke="#ff0000" stroke-opacity="0.8" stroke-width="1.0"/>
<circle cx="279.45" cy="143.32" r="2.45" fill="#ff0000" fill-opacity="0.55" stroke="#ff0000" stroke-opacity="0.8" stroke-width="1.0"/>
<circle cx="281.46" cy="142.78" r="2.45" fill="#ff0000" fill-opacity="0.55" stroke="#ff0000" stroke-opacity="0.8" stroke-width="1.0"/>
<circle cx="283.48" cy="142.31" r="2.45" fill="#ff0000" fill-opacity="0.55" stroke="#ff0000" stroke-opacity="0.8" stroke-width="1.0"/>
<circle cx="285.49" cy="141.13" r="2.45" fill="#ff0000" fill-opacity="0.55" stroke="#ff0000" stroke-opacity="0.8" stroke-width="1.0"/>
<circle cx="287.50" cy="140.46" r="2.45" fill="#ff0000" fill-opacity="0.55" stroke="#ff0000" stroke-opacity="0.8" stroke-width="1.0"/>
<circle cx="289.52" cy="140.21" r="2.45" fill="#ff0000" fill-opacity="0.55" stroke="#ff0000" stroke-opacity="0.8" stroke-width="1.0"/>
<circle cx="291.53" cy="138.33" r="2.45" fill="#ff0000" fill-opacity="0.55" stroke="#ff0000" stroke-opacity="0.8" stroke-width="1.0"/>
<circle cx="293.55" cy="138.46" r="2.45" fill="#ff0000" fill-opacity="0.55" stroke="#ff0000" stroke-opacity="0.8" stroke-width="1.0"/>
<circle cx="295.56" cy="136.69" r="2.45" fill="#ff0000" fill-opacity="0.55" stroke="#ff0000" stroke-opacity="0.8" stroke-width="1.0"/>
<circle cx="297.57" cy="135.52" r="2.45" fill="#ff0000" fill-opacity="0.55" stroke="#ff0000" stroke-opacity="0.8" stroke-width="1.0"/>
<circle cx="299.59" cy="133.96" r="2.45" fill="#ff0000" fill-opacity="0.55" stroke="#ff0000" stroke-opacity="0.8" stroke-width="1.0"/>
<circle cx="301.60" cy="133.25" r="2.45" fill="#ff0000" fill-opacity="0.55" stroke="#ff0000" stroke-opacity="0.8" stroke-width="1.0"/>
<circle cx="303.62" cy="131.26" r="2.45" fill="#ff0000" fill-opacity="0.55" stroke="#ff0000" stroke-opacity="0.8" stroke-width="1.0"/>
<circle cx="305.63" cy="129.64" r="2.45" fill="#ff0000" fill-opacity="0.55" stroke="#ff0000" stroke-opacity="0.8" stroke-width="1.0"/>
<circle cx="307.64" cy="126.96" r="2.45" fill="#ff0000" fill-opacity="0.55" stroke="#ff0000" stroke-opacity="0.8" stroke-width="1.0"/>
<circle cx="309.66" cy="126.28" r="2.45" fill="#ff0000" fill-opacity="0.55" stroke="#ff0000" stroke-opacity="0.8" stroke-width="1.0"/>
<circle cx="311.67" cy="123.37" r="2.45" fill="#ff0000" fill-opacity="0.55" stroke="#ff0000" stroke-opacity="0.8" stroke-width="1.0"/>
<circle cx="313.69" cy="121.21" r="2.45" fill="#ff0000" fill-opacity="0.55" stroke="#ff0000" stroke-opacity="0.8" stroke-width="1.0"/>
<circle cx="315.70" cy="119.51" r="2.45" fill="#ff0000" fill-opacity="0.55" stroke="#ff0000" stroke-opacity="0.8" stroke-width="1.0"/>
<circle cx="317.71" cy="112.61" r="2.45" fill="#ff0000" fill-opacity="0.55" stroke="#ff0000" stroke-opacity="0.8" stroke-width="1.0"/>
<circle cx="319.73" cy="112.11" r="2.45" fill="#ff0000" fill-opacity="0.55" stroke="#ff0000" stroke-opacity="0.8" stroke-width="1.0"/>
<circle cx="321.74" cy="110.14" r="2.45" fill="#ff0000" fill-opacity="0.55" stroke="#ff0000" stroke-opacity="0.8" stroke-width="1.0"/>
<circle cx="323.76" cy="102.68" r="2.45" fill="#ff0000" fill-opacity="0.55" stroke="#ff0000" stroke-opacity="0.8" stroke-width="1.0"/>
<circle cx="325.77" cy="101.48" r="2.45" fill="#ff0000" fill-opacity="0.55" stroke="#ff0000" stroke-opacity="0.8" stroke-width="1.0"/>
<circle cx="327.78" cy="94.67" r="2.45" fill="#ff0000" fill-opacity="0.55" stroke="#ff0000" stroke-opacity="0.8" stroke-width="1.0"/>
<circle cx="329.80" cy="88.55" r="2.45" fill="#ff0000" fill-opacity="0.55" stroke="#ff0000" stroke-opacity="0.8" stroke-width="1.0"/>
<circle cx="331.81" cy="85.20" r="2.45" fill="#ff0000" fill-opacity="0.55" stroke="#ff0000" stroke-opacity="0.8" stroke-width="1.0"/>
<circle cx="333.83" cy="78.60" r="2.45" fill="#ff0000" fill-opacity="0.55" stroke="#ff0000" stroke-opacity="0.8" stroke-width="1.0"/>
<circle cx="335.84" cy="72.09" r="2.45" fill="#ff0000" fill-opacity="0.55" stroke="#ff0000" stroke-opacity="0.8" stroke-width="1.0"/>
<circle cx="337.85" cy="64.07" r="2.45" fill="#ff0000" fill-opacity="0.55" stroke="#ff0000" stroke-opacity="0.8" stroke-width="1.0"/>
<circle cx="339.87" cy="59.96" r="2.45" fill="#ff0000" fill-opacity="0.55" stroke="#ff0000" stroke-opacity="0.8" stroke-width="1.0"/>
<circle cx="341.88" cy="51.48" r="2.45" fill="#ff0000" fill-opacity="0.55" stroke="#ff0000" stroke-opacity="0.8" stroke-width="1.0"/>
<circle cx="343.90" cy="40.98" r="2.45" fill="#ff0000" fill-opacity="0.55" stroke="#ff0000" stroke-opacity="0.8" stroke-width="1.0"/>
<circle cx="345.91" cy="30.14" r="2.45" fill="#ff0000" fill-opacity="0.55" stroke="#ff0000" stroke-opacity="0.8" stroke-width="1.0"/>
<circle cx="347.92" cy="24.26" r="2.45" fill="#ff0000" fill-opacity="0.55" stroke="#ff0000" stroke-opacity="0.8" stroke-width="1.0"/>
<circle cx="349.94" cy="14.81" r="2.45" fill="#ff0000" fill-opacity="0.55" stroke="#ff0000" stroke-opacity="0.8" stroke-width="1.0"/>
<circle cx="351.95" cy="13.35" r="2.45" fill="#ff0000" fill-opacity="0.55" stroke="#ff0000" stroke-opacity="0.8" stroke-width="1.0"/>
<circle cx="353.97" cy="14.33" r="2.45" fill="#ff0000" fill-opacity="0.55" stroke="#ff0000" stroke-opacity="0.8" stroke-width="1.0"/>
<circle cx="355.98" cy="12.07" r="2.45" fill="#ff0000" fill-opacity="0.55" stroke="#ff0000" stroke-opacity="0.8" stroke-width="1.0"/>
<circle cx="357.99" cy="19.29" r="2.45" fill="#ff0000" fill-opacity="0.55" stroke="#ff0000" stroke-opacity="0.8" stroke-width="1.0"/>
<circle cx="360.01" cy="18.65" r="2.45" fill="#ff0000" fill-opacity="0.55" stroke="#ff0000" stroke-opacity="0.8" stroke-width="1.0"/>
<circle cx="362.02" cy="23.33" r="2.45" fill="#ff0000" fill-opacity="0.55" stroke="#ff0000" stroke-opacity="0.8" stroke-width="1.0"/>
<circle cx="364.04" cy="25.32" r="2.45" fill="#ff0000" fill-opacity="0.55" stroke="#ff0000" stroke-opacity="0.8" stroke-width="1.0"/>
<circle cx="366.05" cy="31.24" r="2.45" fill="#ff0000" fill-opacity="0.55" stroke="#ff0000" stroke-opacity="0.8" stroke-width="1.0"/>
<circle cx="368.06" cy="42.09" r="2.45" fill="#ff0000" fill-opacity="0.55" stroke="#ff0000" stroke-opacity="0.8" stroke-width="1.0"/>
<circle cx="370.08" cy="49.87" r="2.45" fill="#ff0000" fill-opacity="0.55" stroke="#ff0000" stroke-opacity="0.8" stroke-width="1.0"/>
<circle cx="372.09" cy="59.77" r="2.45" fill="#ff0000" fill-opacity="0.55" stroke="#ff0000" stroke-opacity="0.8" stroke-width="1.0"/>
<circle cx="374.11" cy="64.06" r="2.45" fill="#ff0000" fill-opacity="0.55" stroke="#ff0000" stroke-opacity="0.8" stroke-width="1.0"/>
<circle cx="376.12" cy="70.52" r="2.45" fill="#ff0000" fill-opacity="0.55" stroke="#ff0000" stroke-opacity="0.8" stroke-width="1.0"/>
<circle cx="378.13" cy="76.98" r="2.45" fill="#ff0000" fill-opacity="0.55" stroke="#ff0000" stroke-opacity="0.8" stroke-width="1.0"/>
<circle cx="380.15" cy="85.42" r="2.45" fill="#ff0000" fill-opacity="0.55" stroke="#ff0000" stroke-opacity="0.8" stroke-width="1.0"/>
<circle cx="382.16" cy="86.78" r="2.45" fill="#ff0000" fill-opacity="0.55" stroke="#ff0000" stroke-opacity="0.8" stroke-width="1.0"/>
<circle cx="384.18" cy="93.47" r="2.45" fill="#ff0000" fill-opacity="0.55" stroke="#ff0000" stroke-opacity="0.8" stroke-width="1.0"/>
<circle cx="386.19" cy="100.16" r="2.45" fill="#ff0000" fill-opacity="0.55" stroke="#ff0000" stroke-opacity="0.8" stroke-width="1.0"/>
<circle cx="388.20" cy="105.09" r="2.45" fill="#ff0000" fill-opacity="0.55" stroke="#ff0000" stroke-opacity="0.8" stroke-width="1.0"/>
<circle cx="390.22" cy="108.79" r="2.45" fill="#ff0000" fill-opacity="0.55" stroke="#ff0000" stroke-opacity="0.8" stroke-width="1.0"/>
<circle cx="392.23" cy="111.87" r="2.45" fill="#ff0000" fill-opacity="0.55" stroke="#ff0000" stroke-opacity="0.8" stroke-width="1.0"/>
<circle cx="394.25" cy="115.33" r="2.45" fill="#ff0000" fill-opacity="0.55" stroke="#ff0000" stroke-opacity="0.8" stroke-width="1.0"/>
<circle cx="396.26" cy="117.82" r="2.45" fill="#ff0000" fill-opacity="0.55" stroke="#ff0000" stroke-opacity="0.8" stroke-width="1.0"/>
<circle cx="398.27" cy="120.30" r="2.45" fill="#ff0000" fill-opacity="0.55" stroke="#ff0000" stroke-opacity="0.8" stroke-width="1.0"/>
<circle cx="400.29" cy="122.30" r="2.45" fill="#ff0000" fill-opacity="0.55" stroke="#ff0000" stroke-opacity="0.8" stroke-width="1.0"/>
<circle cx="402.30" cy="124.76" r="2.45" fill="#ff0000" fill-opacity="0.55" stroke="#ff0000" stroke-opacity="0.8" stroke-width="1.0"/>
<circle cx="404.32" cy="127.77" r="2.45" fill="#ff0000" fill-opacity="0.55" stroke="#ff0000" stroke-opacity="0.8" stroke-width="1.0"/>
<circle cx="406.33" cy="129.27" r="2.45" fill="#ff0000" fill-opacity="0.55" stroke="#ff0000" stroke-opacity="0.8" stroke-width="1.0"/>
<circle cx="408.34" cy="131.49" r="2.45" fill="#ff0000" fill-opacity="0.55" stroke="#ff0000" stroke-opacity="0.8" stroke-width="1.0"/>
<circle cx="410.36" cy="133.16" r="2.45" fill="#ff0000" fill-opacity="0.55" stroke="#ff0000" stroke-opacity="0.8" stroke-width="1.0"/>
<circle cx="412.37" cy="133.08" r="2.45" fill="#ff0000" fill-opacity="0.55" stroke="#ff0000" stroke-opacity="0.8" stroke-width="1.0"/>
<circle cx="414.39" cy="135.78" r="2.45" fill="#ff0000" fill-opacity="0.55" stroke="#ff0000" stroke-opacity="0.8" stroke-width="1.0"/>
<circle cx="416.40" cy="135.65" r="2.45" fill="#ff0000" fill-opacity="0.55" stroke="#ff0000" stroke-opacity="0.8" stroke-width="1.0"/>
<circle cx="418.41" cy="138.01" r="2.45" fill="#ff0000" fill-opacity="0.55" stroke="#ff0000" stroke-opacity="0.8" stroke-width="1.0"/>
<circle cx="420.43" cy="138.73" r="2.45" fill="#ff0000" fill-opacity="0.55" stroke="#ff0000" stroke-opacity="0.8" stroke-width="1.0"/>
<circle cx="422.44" cy="139.29" r="2.45" fill="#ff0000" fill-opacity="0.55" stroke="#ff0000" stroke-opacity="0.8" stroke-width="1.0"/>
<circle cx="424.46" cy="140.67" r="2.45" fill="#ff0000" fill-opacity="0.55" stroke="#ff0000" stroke-opacity="0.8" stroke-width="1.0"/>
<circle cx="426.47" cy="141.32" r="2.45" fill="#ff0000" fill-opacity="0.55" stroke="#ff0000" stroke-opacity="0.8" stroke-width="1.0"/>
<circle cx="428.48" cy="142.34" r="2.45" fill="#ff0000" fill-opacity="0.55" stroke="#ff0000" stroke-opacity="0.8" stroke-width="1.0"/>
<circle cx="430.50" cy="143.14" r="2.45" fill="#ff0000" fill-opacity="0.55" stroke="#ff0000" stroke-opacity="0.8" stroke-width="1.0"/>
<circle cx="432.51" cy="143.67" r="2.45" fill="#ff0000" fill-opacity="0.55" stroke="#ff0000" stroke-opacity="0.8" stroke-width="1.0"/>
<circle cx="434.53" cy="144.45" r="2.45" fill="#ff0000" fill-opacity="0.55" stroke="#ff0000" stroke-opacity="0.8" stroke-width="1.0"/>
<circle cx="436.54" cy="144.19" r="2.45" fill="#ff0000" fill-opacity="0.55" stroke="#ff0000" stroke-opacity="0.8" stroke-width="1.0"/>
<circle cx="438.55" cy="145.37" r="2.45" fill="#ff0000" fill-opacity="0.55" stroke="#ff0000" stroke-opacity="0.8" stroke-width="1.0"/>
<circle cx="440.57" cy="145.23" r="2.45" fill="#ff0000" fill-opacity="0.55" stroke="#ff0000" stroke-opacity="0.8" stroke-width="1.0"/>
<circle cx="442.58" cy="147.16" r="2.45" fill="#ff0000" fill-opacity="0.55" stroke="#ff0000" stroke-opacity="0.8" stroke-width="1.0"/>
<circle cx="444.60" cy="146.72" r="2.45" fill="#ff0000" fill-opacity="0.55" stroke="#ff0000" stroke-opacity="0.8" stroke-width="1.0"/>
<circle cx="446.61" cy="146.96" r="2.45" fill="#ff0000" fill-opacity="0.55" stroke="#ff0000" stroke-opacity="0.8" stroke-width="1.0"/>
<circle cx="448.62" cy="147.62" r="2.45" fill="#ff0000" fill-opacity="0.55" stroke="#ff0000" stroke-opacity="0.8" stroke-width="1.0"/>
<circle cx="450.64" cy="147.57" r="2.45" fill="#ff0000" fill-opacity="0.55" stroke="#ff0000" stroke-opacity="0.8" stroke-width="1.0"/>
<circle cx="452.65" cy="148.06" r="2.45" fill="#ff0000" fill-opacity="0.55" stroke="#ff0000" stroke-opacity="0.8" stroke-width="1.0"/>
<circle cx="454.67" cy="148.64" r="2.45" fill="#ff0000" fill-opacity="0.55" stroke="#ff0000" stroke-opacity="0.8" stroke-width="1.0"/>
<circle cx="456.68" cy="148.76" r="2.45" fill="#ff0000" fill-opacity="0.55" stroke="#ff0000" stroke-opacity="0.8" stroke-width="1.0"/>
<circle cx="458.69" cy="148.43" r="2.45" fill="#ff0000" fill-opacity="0.55" stroke="#ff0000" stroke-opacity="0.8" stroke-width="1.0"/>
<circle cx="460.71" cy="149.38" r="2.45" fill="#ff0000" fill-opacity="0.55" stroke="#ff0000" stroke-opacity="0.8" stroke-width="1.0"/>
<circle cx="462.72" cy="149.63" r="2.45" fill="#ff0000" fill-opacity="0.55" stroke="#ff0000" stroke-opacity="0.8" stroke-width="1.0"/>
<circle cx="464.74" cy="150.06" r="2.45" fill="#ff0000" fill-opacity="0.55" stroke="#ff0000" stroke-opacity="0.8" stroke-width="1.0"/>
<circle cx="466.75" cy="150.16" r="2.45" fill="#ff0000" fill-opacity="0.55" stroke="#ff0000" stroke-opacity="0.8" stroke-width="1.0"/>
<circle cx="468.76" cy="150.72" r="2.45" fill="#ff0000" fill-opacity="0.55" stroke="#ff0000" stroke-opacity="0.8" stroke-width="1.0"/>
<circle cx="470.78" cy="150.67" r="2.45" fill="#ff0000" fill-opacity="0.55" stroke="#ff0000" stroke-opacity="0.8" stroke-width="1.0"/>
<circle cx="472.79" cy="150.27" r="2.45" fill="#ff0000" fill-opacity="0.55" stroke="#ff0000" stroke-opacity="0.8" stroke-width="1.0"/>
<circle cx="474.81" cy="150.78" r="2.45" fill="#ff0000" fill-opacity="0.55" stroke="#ff0000" stroke-opacity="0.8" stroke-width="1.0"/>
<circle cx="277.44" cy="136.36" r="2.45" fill="#0000ff" fill-opacity="0.45" stroke="#0000ff" stroke-opacity="0.72" stroke-width="1.0"/>
<circle cx="287.50" cy="127.73" r="2.45" fill="#0000ff" fill-opacity="0.45" stroke="#0000ff" stroke-opacity="0.72" stroke-width="1.0"/>
<circle cx="297.58" cy="118.25" r="2.45" fill="#0000ff" fill-opacity="0.45" stroke="#0000ff" stroke-opacity="0.72" stroke-width="1.0"/>
<circle cx="307.65" cy="111.17" r="2.45" fill="#0000ff" fill-opacity="0.45" stroke="#0000ff" stroke-opacity="0.72" stroke-width="1.0"/>
<circle cx="317.72" cy="104.10" r="2.45" fill="#0000ff" fill-opacity="0.45" stroke="#0000ff" stroke-opacity="0.72" stroke-width="1.0"/>
<circle cx="327.79" cy="87.54" r="2.45" fill="#0000ff" fill-opacity="0.45" stroke="#0000ff" stroke-opacity="0.72" stroke-width="1.0"/>
<circle cx="337.86" cy="58.11" r="2.45" fill="#0000ff" fill-opacity="0.45" stroke="#0000ff" stroke-opacity="0.72" stroke-width="1.0"/>
<circle cx="347.93" cy="21.46" r="2.45" fill="#0000ff" fill-opacity="0.45" stroke="#0000ff" stroke-opacity="0.72" stroke-width="1.0"/>
<circle cx="358.00" cy="10.00" r="2.45" fill="#0000ff" fill-opacity="0.45" stroke="#0000ff" stroke-opacity="0.72" stroke-width="1.0"/>
<circle cx="368.06" cy="26.98" r="2.45" fill="#0000ff" fill-opacity="0.45" stroke="#0000ff" stroke-opacity="0.72" stroke-width="1.0"/>
<circle cx="378.14" cy="61.36" r="2.45" fill="#0000ff" fill-opacity="0.45" stroke="#0000ff" stroke-opacity="0.72" stroke-width="1.0"/>
<circle cx="388.21" cy="88.25" r="2.45" fill="#0000ff" fill-opacity="0.45" stroke="#0000ff" stroke-opacity="0.72" stroke-width="1.0"/>
<circle cx="398.28" cy="107.07" r="2.45" fill="#0000ff" fill-opacity="0.45" stroke="#0000ff" stroke-opacity="0.72" stroke-width="1.0"/>
<circle cx="408.35" cy="120.51" r="2.45" fill="#0000ff" fill-opacity="0.45" stroke="#0000ff" stroke-opacity="0.72" stroke-width="1.0"/>
<circle cx="418.42" cy="127.44" r="2.45" fill="#0000ff" fill-opacity="0.45" stroke="#0000ff" stroke-opacity="0.72" stroke-width="1.0"/>
<circle cx="428.49" cy="135.37" r="2.45" fill="#0000ff" fill-opacity="0.45" stroke="#0000ff" stroke-opacity="0.72" stroke-width="1.0"/>
<circle cx="438.56" cy="138.76" r="2.45" fill="#0000ff" fill-opacity="0.45" stroke="#0000ff" stroke-opacity="0.72" stroke-width="1.0"/>
<circle cx="448.62" cy="137.35" r="2.45" fill="#0000ff" fill-opacity="0.45" stroke="#0000ff" stroke-opacity="0.72" stroke-width="1.0"/>
<circle cx="458.70" cy="134.66" r="2.45" fill="#0000ff" fill-opacity="0.45" stroke="#0000ff" stroke-opacity="0.72" stroke-width="1.0"/>
<circle cx="468.77" cy="133.10" r="2.45" fill="#0000ff" fill-opacity="0.45" stroke="#0000ff" stroke-opacity="0.72" stroke-width="1.0"/>
<circle cx="277.44" cy="139.05" r="2.45" fill="#000000" fill-opacity="0.45" stroke="#000000" stroke-opacity="0.72" stroke-width="1.0"/>
<circle cx="287.50" cy="133.81" r="2.45" fill="#000000" fill-opacity="0.45" stroke="#000000" stroke-opacity="0.72" stroke-width="1.0"/>
<circle cx="297.58" cy="126.17" r="2.45" fill="#000000" fill-opacity="0.45" stroke="#000000" stroke-opacity="0.72" stroke-width="1.0"/>
<circle cx="307.65" cy="115.56" r="2.45" fill="#000000" fill-opacity="0.45" stroke="#000000" stroke-opacity="0.72" stroke-width="1.0"/>
<circle cx="317.72" cy="96.31" r="2.45" fill="#000000" fill-opacity="0.45" stroke="#000000" stroke-opacity="0.72" stroke-width="1.0"/>
<circle cx="327.79" cy="69.43" r="2.45" fill="#000000" fill-opacity="0.45" stroke="#000000" stroke-opacity="0.72" stroke-width="1.0"/>
<circle cx="337.86" cy="39.01" r="2.45" fill="#000000" fill-opacity="0.45" stroke="#000000" stroke-opacity="0.72" stroke-width="1.0"/>
<circle cx="347.93" cy="15.52" r="2.45" fill="#000000" fill-opacity="0.45" stroke="#000000" stroke-opacity="0.72" stroke-width="1.0"/>
<circle cx="358.00" cy="10.00" r="2.45" fill="#000000" fill-opacity="0.45" stroke="#000000" stroke-opacity="0.72" stroke-width="1.0"/>
<circle cx="368.06" cy="22.17" r="2.45" fill="#000000" fill-opacity="0.45" stroke="#000000" stroke-opacity="0.72" stroke-width="1.0"/>
<circle cx="378.14" cy="48.35" r="2.45" fill="#000000" fill-opacity="0.45" stroke="#000000" stroke-opacity="0.72" stroke-width="1.0"/>
<circle cx="388.21" cy="75.09" r="2.45" fill="#000000" fill-opacity="0.45" stroke="#000000" stroke-opacity="0.72" stroke-width="1.0"/>
<circle cx="398.28" cy="97.59" r="2.45" fill="#000000" fill-opacity="0.45" stroke="#000000" stroke-opacity="0.72" stroke-width="1.0"/>
<circle cx="408.35" cy="113.15" r="2.45" fill="#000000" fill-opacity="0.45" stroke="#000000" stroke-opacity="0.72" stroke-width="1.0"/>
<circle cx="418.42" cy="124.47" r="2.45" fill="#000000" fill-opacity="0.45" stroke="#000000" stroke-opacity="0.72" stroke-width="1.0"/>
<circle cx="428.49" cy="133.10" r="2.45" fill="#000000" fill-opacity="0.45" stroke="#000000" stroke-opacity="0.72" stroke-width="1.0"/>
<circle cx="438.56" cy="138.48" r="2.45" fill="#000000" fill-opacity="0.45" stroke="#000000" stroke-opacity="0.72" stroke-width="1.0"/>
<circle cx="448.62" cy="143.29" r="2.45" fill="#000000" fill-opacity="0.45" stroke="#000000" stroke-opacity="0.72" stroke-width="1.0"/>
<circle cx="458.70" cy="145.56" r="2.45" fill="#000000" fill-opacity="0.45" stroke="#000000" stroke-opacity="0.72" stroke-width="1.0"/>
<circle cx="468.77" cy="146.55" r="2.45" fill="#000000" fill-opacity="0.45" stroke="#000000" stroke-opacity="0.72" stroke-width="1.0"/>
<path d="M271.4,145.8 L273.4,145.3 L275.4,144.8 L277.4,144.2 L279.4,143.6 L281.5,142.9 L283.5,142.2 L285.5,141.5 L287.5,140.7 L289.5,139.8 L291.5,138.9 L293.5,137.8 L295.6,136.7 L297.6,135.5 L299.6,134.2 L301.6,132.8 L303.6,131.2 L305.6,129.5 L307.6,127.7 L309.7,125.7 L311.7,123.4 L313.7,121.0 L315.7,118.3 L317.7,115.3 L319.7,112.0 L321.7,108.4 L323.8,104.4 L325.8,100.0 L327.8,95.2 L329.8,89.9 L331.8,84.1 L333.8,77.8 L335.8,71.0 L337.9,63.8 L339.9,56.2 L341.9,48.4 L343.9,40.6 L345.9,33.1 L347.9,26.1 L349.9,20.2 L352.0,15.6 L354.0,12.7 L356.0,11.7 L358.0,12.7 L360.0,15.6 L362.0,20.2 L364.0,26.1 L366.1,33.1 L368.1,40.6 L370.1,48.4 L372.1,56.2 L374.1,63.8 L376.1,71.0 L378.1,77.8 L380.1,84.1 L382.2,89.9 L384.2,95.2 L386.2,100.0 L388.2,104.4 L390.2,108.4 L392.2,112.0 L394.2,115.3 L396.3,118.3 L398.3,121.0 L400.3,123.4 L402.3,125.7 L404.3,127.7 L406.3,129.5 L408.3,131.2 L410.4,132.8 L412.4,134.2 L414.4,135.5 L416.4,136.7 L418.4,137.8 L420.4,138.9 L422.4,139.8 L424.5,140.7 L426.5,141.5 L428.5,142.2 L430.5,142.9 L432.5,143.6 L434.5,144.2 L436.5,144.8 L438.6,145.3 L440.6,145.8 L442.6,146.3 L444.6,146.7 L446.6,147.1 L448.6,147.5 L450.6,147.9 L452.7,148.2 L454.7,148.6 L456.7,148.9 L458.7,149.2 L460.7,149.4 L462.7,149.7 L464.7,150.0 L466.8,150.2 L468.8,150.4 L470.8,150.6 L472.8,150.8 L474.8,151.0" fill="none" stroke="#ff0000" stroke-width="1.6" stroke-dasharray="4.4 1.9" stroke-linejoin="round"/>
<path d="M277.4,141.7 L287.5,136.6 L297.6,129.0 L307.6,117.5 L317.7,100.7 L327.8,77.3 L337.9,48.7 L347.9,22.8 L358.0,15.3 L368.1,32.2 L378.1,60.8 L388.2,87.8 L398.3,108.4 L408.3,122.8 L418.4,132.5 L428.5,138.9 L438.6,143.3 L448.6,146.3 L458.7,148.6 L468.8,150.3" fill="none" stroke="#0000ff" stroke-width="1.6" stroke-dasharray="4.4 1.9" stroke-linejoin="round"/>
<path d="M277.4,140.9 L287.5,135.2 L297.6,126.3 L307.6,113.0 L317.7,94.2 L327.8,69.7 L337.9,42.1 L347.9,18.2 L358.0,9.3 L368.1,20.9 L378.1,45.9 L388.2,73.4 L398.3,97.1 L408.3,115.1 L418.4,127.8 L428.5,136.1 L438.6,141.5 L448.6,145.0 L458.7,147.3 L468.8,149.0" fill="none" stroke="#000000" stroke-width="1.6" stroke-dasharray="4.4 1.9" stroke-linejoin="round"/>
</g>
<rect x="272.4" y="1.5" width="201.40" height="156.90" fill="none" stroke="#555" stroke-width="1.25"/>
<line x1="292.54" y1="158.4" x2="292.54" y2="161.4" stroke="#555" stroke-width="1.1"/>
<text x="292.54" y="170.40" font-size="8.32" textLength="11.57" lengthAdjust="spacingAndGlyphs" text-anchor="middle" fill="#000" stroke="#000" stroke-width="0.12">−4</text>
<line x1="332.82" y1="158.4" x2="332.82" y2="161.4" stroke="#555" stroke-width="1.1"/>
<text x="332.82" y="170.40" font-size="8.32" textLength="11.57" lengthAdjust="spacingAndGlyphs" text-anchor="middle" fill="#000" stroke="#000" stroke-width="0.12">−2</text>
<line x1="373.10" y1="158.4" x2="373.10" y2="161.4" stroke="#555" stroke-width="1.1"/>
<text x="373.10" y="170.40" font-size="8.32" textLength="4.99" lengthAdjust="spacingAndGlyphs" text-anchor="middle" fill="#000" stroke="#000" stroke-width="0.12">0</text>
<line x1="413.38" y1="158.4" x2="413.38" y2="161.4" stroke="#555" stroke-width="1.1"/>
<text x="413.38" y="170.40" font-size="8.32" textLength="4.99" lengthAdjust="spacingAndGlyphs" text-anchor="middle" fill="#000" stroke="#000" stroke-width="0.12">2</text>
<line x1="453.66" y1="158.4" x2="453.66" y2="161.4" stroke="#555" stroke-width="1.1"/>
<text x="453.66" y="170.40" font-size="8.32" textLength="4.99" lengthAdjust="spacingAndGlyphs" text-anchor="middle" fill="#000" stroke="#000" stroke-width="0.12">4</text>
<line x1="269.4" y1="151.50" x2="272.4" y2="151.50" stroke="#555" stroke-width="1.1"/>
<text x="266.30" y="154.80" font-size="8.32" textLength="12.48" lengthAdjust="spacingAndGlyphs" text-anchor="end" fill="#000" stroke="#000" stroke-width="0.12">0.0</text>
<line x1="269.4" y1="123.20" x2="272.4" y2="123.20" stroke="#555" stroke-width="1.1"/>
<text x="266.30" y="126.50" font-size="8.32" textLength="12.48" lengthAdjust="spacingAndGlyphs" text-anchor="end" fill="#000" stroke="#000" stroke-width="0.12">0.2</text>
<line x1="269.4" y1="94.90" x2="272.4" y2="94.90" stroke="#555" stroke-width="1.1"/>
<text x="266.30" y="98.20" font-size="8.32" textLength="12.48" lengthAdjust="spacingAndGlyphs" text-anchor="end" fill="#000" stroke="#000" stroke-width="0.12">0.4</text>
<line x1="269.4" y1="66.60" x2="272.4" y2="66.60" stroke="#555" stroke-width="1.1"/>
<text x="266.30" y="69.90" font-size="8.32" textLength="12.48" lengthAdjust="spacingAndGlyphs" text-anchor="end" fill="#000" stroke="#000" stroke-width="0.12">0.6</text>
<line x1="269.4" y1="38.30" x2="272.4" y2="38.30" stroke="#555" stroke-width="1.1"/>
<text x="266.30" y="41.60" font-size="8.32" textLength="12.48" lengthAdjust="spacingAndGlyphs" text-anchor="end" fill="#000" stroke="#000" stroke-width="0.12">0.8</text>
<line x1="269.4" y1="10.00" x2="272.4" y2="10.00" stroke="#555" stroke-width="1.1"/>
<text x="266.30" y="13.30" font-size="8.32" textLength="12.48" lengthAdjust="spacingAndGlyphs" text-anchor="end" fill="#000" stroke="#000" stroke-width="0.12">1.0</text>
<text x="373.10" y="181.40" font-size="8.32" textLength="47.82" lengthAdjust="spacingAndGlyphs" text-anchor="middle" fill="#000" stroke="#000" stroke-width="0.12">Depth [mm]</text>
<text transform="translate(249.00,80.15) rotate(-90)" x="0" y="0" text-anchor="middle" font-size="8.32" textLength="58.72" lengthAdjust="spacingAndGlyphs" fill="#000" stroke="#000" stroke-width="0.12">Intensity [a.u.]</text>
<text x="287.30" y="19.20" font-size="8.32" textLength="9.99" lengthAdjust="spacingAndGlyphs" fill="#000" stroke="#000" stroke-width="0.12">10</text>
<text x="296.90" y="23.50" font-size="12.19" textLength="8.03" lengthAdjust="spacingAndGlyphs" font-style="italic" fill="#000" stroke="#000" stroke-width="0.12">C</text>
<text x="309.90" y="23.50" font-size="11.98" textLength="34.13" lengthAdjust="spacingAndGlyphs" fill="#000" stroke="#000" stroke-width="0.12">Mono.</text>
<rect x="370.8" y="5.1" width="98.8" height="39" rx="2.2" ry="2.2" fill="#fff" fill-opacity="0.8" stroke="#d0d0d0" stroke-width="0.9"/>
<circle cx="382.10" cy="11.90" r="2.2" fill="#ff0000" fill-opacity="0.45" stroke="#ff0000" stroke-opacity="0.72" stroke-width="0.8"/>
<text x="396.70" y="14.30" font-size="8.37" textLength="17.93" lengthAdjust="spacingAndGlyphs" fill="#000" stroke="#000" stroke-width="0.12">Ann.</text>
<text x="417.14" y="14.30" font-size="8.37" textLength="5.49" lengthAdjust="spacingAndGlyphs" font-style="italic" fill="#000" stroke="#000" stroke-width="0.12">R</text>
<text x="423.23" y="11.24" font-size="5.71" textLength="3.43" lengthAdjust="spacingAndGlyphs" fill="#000" stroke="#000" stroke-width="0.12">2</text>
<text x="426.66" y="14.30" font-size="8.37" textLength="22.76" lengthAdjust="spacingAndGlyphs" fill="#000" stroke="#000" stroke-width="0.12">: 1.00</text>
<circle cx="382.10" cy="24.60" r="2.2" fill="#0000ff" fill-opacity="0.45" stroke="#0000ff" stroke-opacity="0.72" stroke-width="0.8"/>
<text x="396.70" y="27.00" font-size="8.37" textLength="34.29" lengthAdjust="spacingAndGlyphs" fill="#000" stroke="#000" stroke-width="0.12">PET Exp.</text>
<text x="433.50" y="27.00" font-size="8.37" textLength="5.49" lengthAdjust="spacingAndGlyphs" font-style="italic" fill="#000" stroke="#000" stroke-width="0.12">R</text>
<text x="439.59" y="23.94" font-size="5.71" textLength="3.43" lengthAdjust="spacingAndGlyphs" fill="#000" stroke="#000" stroke-width="0.12">2</text>
<text x="443.01" y="27.00" font-size="8.37" textLength="22.76" lengthAdjust="spacingAndGlyphs" fill="#000" stroke="#000" stroke-width="0.12">: 0.96</text>
<circle cx="382.10" cy="37.30" r="2.2" fill="#000000" fill-opacity="0.45" stroke="#000000" stroke-opacity="0.72" stroke-width="0.8"/>
<text x="396.70" y="39.70" font-size="8.37" textLength="34.51" lengthAdjust="spacingAndGlyphs" fill="#000" stroke="#000" stroke-width="0.12">PET Sim.</text>
<text x="433.72" y="39.70" font-size="8.37" textLength="5.49" lengthAdjust="spacingAndGlyphs" font-style="italic" fill="#000" stroke="#000" stroke-width="0.12">R</text>
<text x="439.81" y="36.64" font-size="5.71" textLength="3.43" lengthAdjust="spacingAndGlyphs" fill="#000" stroke="#000" stroke-width="0.12">2</text>
<text x="443.24" y="39.70" font-size="8.37" textLength="22.76" lengthAdjust="spacingAndGlyphs" fill="#000" stroke="#000" stroke-width="0.12">: 1.00</text>
<g clip-path="url(#cBL)">
<circle cx="35.24" cy="334.09" r="2.45" fill="#ff0000" fill-opacity="0.45" stroke="#ff0000" stroke-opacity="0.72" stroke-width="1.0"/>
<circle cx="45.32" cy="330.95" r="2.45" fill="#ff0000" fill-opacity="0.45" stroke="#ff0000" stroke-opacity="0.72" stroke-width="1.0"/>
<circle cx="55.40" cy="328.96" r="2.45" fill="#ff0000" fill-opacity="0.45" stroke="#ff0000" stroke-opacity="0.72" stroke-width="1.0"/>
<circle cx="65.48" cy="323.97" r="2.45" fill="#ff0000" fill-opacity="0.45" stroke="#ff0000" stroke-opacity="0.72" stroke-width="1.0"/>
<circle cx="75.56" cy="313.85" r="2.45" fill="#ff0000" fill-opacity="0.45" stroke="#ff0000" stroke-opacity="0.72" stroke-width="1.0"/>
<circle cx="85.64" cy="295.75" r="2.45" fill="#ff0000" fill-opacity="0.45" stroke="#ff0000" stroke-opacity="0.72" stroke-width="1.0"/>
<circle cx="95.72" cy="271.39" r="2.45" fill="#ff0000" fill-opacity="0.45" stroke="#ff0000" stroke-opacity="0.72" stroke-width="1.0"/>
<circle cx="105.80" cy="241.18" r="2.45" fill="#ff0000" fill-opacity="0.45" stroke="#ff0000" stroke-opacity="0.72" stroke-width="1.0"/>
<circle cx="115.88" cy="213.68" r="2.45" fill="#ff0000" fill-opacity="0.45" stroke="#ff0000" stroke-opacity="0.72" stroke-width="1.0"/>
<circle cx="125.96" cy="198.00" r="2.45" fill="#ff0000" fill-opacity="0.45" stroke="#ff0000" stroke-opacity="0.72" stroke-width="1.0"/>
<circle cx="136.04" cy="198.00" r="2.45" fill="#ff0000" fill-opacity="0.45" stroke="#ff0000" stroke-opacity="0.72" stroke-width="1.0"/>
<circle cx="146.12" cy="208.69" r="2.45" fill="#ff0000" fill-opacity="0.45" stroke="#ff0000" stroke-opacity="0.72" stroke-width="1.0"/>
<circle cx="156.20" cy="235.48" r="2.45" fill="#ff0000" fill-opacity="0.45" stroke="#ff0000" stroke-opacity="0.72" stroke-width="1.0"/>
<circle cx="166.28" cy="264.69" r="2.45" fill="#ff0000" fill-opacity="0.45" stroke="#ff0000" stroke-opacity="0.72" stroke-width="1.0"/>
<circle cx="176.36" cy="292.90" r="2.45" fill="#ff0000" fill-opacity="0.45" stroke="#ff0000" stroke-opacity="0.72" stroke-width="1.0"/>
<circle cx="186.44" cy="313.00" r="2.45" fill="#ff0000" fill-opacity="0.45" stroke="#ff0000" stroke-opacity="0.72" stroke-width="1.0"/>
<circle cx="196.52" cy="326.11" r="2.45" fill="#ff0000" fill-opacity="0.45" stroke="#ff0000" stroke-opacity="0.72" stroke-width="1.0"/>
<circle cx="206.60" cy="332.24" r="2.45" fill="#ff0000" fill-opacity="0.45" stroke="#ff0000" stroke-opacity="0.72" stroke-width="1.0"/>
<circle cx="216.68" cy="335.65" r="2.45" fill="#ff0000" fill-opacity="0.45" stroke="#ff0000" stroke-opacity="0.72" stroke-width="1.0"/>
<circle cx="226.76" cy="336.65" r="2.45" fill="#ff0000" fill-opacity="0.45" stroke="#ff0000" stroke-opacity="0.72" stroke-width="1.0"/>
<circle cx="35.24" cy="320.26" r="2.45" fill="#0000ff" fill-opacity="0.45" stroke="#0000ff" stroke-opacity="0.72" stroke-width="1.0"/>
<circle cx="45.32" cy="317.70" r="2.45" fill="#0000ff" fill-opacity="0.45" stroke="#0000ff" stroke-opacity="0.72" stroke-width="1.0"/>
<circle cx="55.40" cy="313.00" r="2.45" fill="#0000ff" fill-opacity="0.45" stroke="#0000ff" stroke-opacity="0.72" stroke-width="1.0"/>
<circle cx="65.48" cy="305.30" r="2.45" fill="#0000ff" fill-opacity="0.45" stroke="#0000ff" stroke-opacity="0.72" stroke-width="1.0"/>
<circle cx="75.56" cy="291.05" r="2.45" fill="#0000ff" fill-opacity="0.45" stroke="#0000ff" stroke-opacity="0.72" stroke-width="1.0"/>
<circle cx="85.64" cy="271.53" r="2.45" fill="#0000ff" fill-opacity="0.45" stroke="#0000ff" stroke-opacity="0.72" stroke-width="1.0"/>
<circle cx="95.72" cy="249.30" r="2.45" fill="#0000ff" fill-opacity="0.45" stroke="#0000ff" stroke-opacity="0.72" stroke-width="1.0"/>
<circle cx="105.80" cy="228.35" r="2.45" fill="#0000ff" fill-opacity="0.45" stroke="#0000ff" stroke-opacity="0.72" stroke-width="1.0"/>
<circle cx="115.88" cy="209.54" r="2.45" fill="#0000ff" fill-opacity="0.45" stroke="#0000ff" stroke-opacity="0.72" stroke-width="1.0"/>
<circle cx="125.96" cy="198.00" r="2.45" fill="#0000ff" fill-opacity="0.45" stroke="#0000ff" stroke-opacity="0.72" stroke-width="1.0"/>
<circle cx="136.04" cy="198.00" r="2.45" fill="#0000ff" fill-opacity="0.45" stroke="#0000ff" stroke-opacity="0.72" stroke-width="1.0"/>
<circle cx="146.12" cy="207.55" r="2.45" fill="#0000ff" fill-opacity="0.45" stroke="#0000ff" stroke-opacity="0.72" stroke-width="1.0"/>
<circle cx="156.20" cy="227.07" r="2.45" fill="#0000ff" fill-opacity="0.45" stroke="#0000ff" stroke-opacity="0.72" stroke-width="1.0"/>
<circle cx="166.28" cy="251.87" r="2.45" fill="#0000ff" fill-opacity="0.45" stroke="#0000ff" stroke-opacity="0.72" stroke-width="1.0"/>
<circle cx="176.36" cy="272.67" r="2.45" fill="#0000ff" fill-opacity="0.45" stroke="#0000ff" stroke-opacity="0.72" stroke-width="1.0"/>
<circle cx="186.44" cy="291.62" r="2.45" fill="#0000ff" fill-opacity="0.45" stroke="#0000ff" stroke-opacity="0.72" stroke-width="1.0"/>
<circle cx="196.52" cy="306.01" r="2.45" fill="#0000ff" fill-opacity="0.45" stroke="#0000ff" stroke-opacity="0.72" stroke-width="1.0"/>
<circle cx="206.60" cy="316.85" r="2.45" fill="#0000ff" fill-opacity="0.45" stroke="#0000ff" stroke-opacity="0.72" stroke-width="1.0"/>
<circle cx="216.68" cy="323.12" r="2.45" fill="#0000ff" fill-opacity="0.45" stroke="#0000ff" stroke-opacity="0.72" stroke-width="1.0"/>
<circle cx="226.76" cy="326.54" r="2.45" fill="#0000ff" fill-opacity="0.45" stroke="#0000ff" stroke-opacity="0.72" stroke-width="1.0"/>
<circle cx="31.41" cy="335.51" r="2.45" fill="#000000" fill-opacity="0.45" stroke="#000000" stroke-opacity="0.72" stroke-width="1.0"/>
<circle cx="38.26" cy="334.09" r="2.45" fill="#000000" fill-opacity="0.45" stroke="#000000" stroke-opacity="0.72" stroke-width="1.0"/>
<circle cx="45.12" cy="333.09" r="2.45" fill="#000000" fill-opacity="0.45" stroke="#000000" stroke-opacity="0.72" stroke-width="1.0"/>
<circle cx="51.97" cy="333.09" r="2.45" fill="#000000" fill-opacity="0.45" stroke="#000000" stroke-opacity="0.72" stroke-width="1.0"/>
<circle cx="58.83" cy="330.24" r="2.45" fill="#000000" fill-opacity="0.45" stroke="#000000" stroke-opacity="0.72" stroke-width="1.0"/>
<circle cx="65.68" cy="325.25" r="2.45" fill="#000000" fill-opacity="0.45" stroke="#000000" stroke-opacity="0.72" stroke-width="1.0"/>
<circle cx="72.54" cy="315.13" r="2.45" fill="#000000" fill-opacity="0.45" stroke="#000000" stroke-opacity="0.72" stroke-width="1.0"/>
<circle cx="79.39" cy="301.31" r="2.45" fill="#000000" fill-opacity="0.45" stroke="#000000" stroke-opacity="0.72" stroke-width="1.0"/>
<circle cx="86.24" cy="280.65" r="2.45" fill="#000000" fill-opacity="0.45" stroke="#000000" stroke-opacity="0.72" stroke-width="1.0"/>
<circle cx="93.10" cy="258.42" r="2.45" fill="#000000" fill-opacity="0.45" stroke="#000000" stroke-opacity="0.72" stroke-width="1.0"/>
<circle cx="99.95" cy="241.18" r="2.45" fill="#000000" fill-opacity="0.45" stroke="#000000" stroke-opacity="0.72" stroke-width="1.0"/>
<circle cx="106.81" cy="219.38" r="2.45" fill="#000000" fill-opacity="0.45" stroke="#000000" stroke-opacity="0.72" stroke-width="1.0"/>
<circle cx="113.66" cy="214.96" r="2.45" fill="#000000" fill-opacity="0.45" stroke="#000000" stroke-opacity="0.72" stroke-width="1.0"/>
<circle cx="120.52" cy="208.83" r="2.45" fill="#000000" fill-opacity="0.45" stroke="#000000" stroke-opacity="0.72" stroke-width="1.0"/>
<circle cx="127.37" cy="209.54" r="2.45" fill="#000000" fill-opacity="0.45" stroke="#000000" stroke-opacity="0.72" stroke-width="1.0"/>
<circle cx="134.23" cy="202.13" r="2.45" fill="#000000" fill-opacity="0.45" stroke="#000000" stroke-opacity="0.72" stroke-width="1.0"/>
<circle cx="141.08" cy="209.54" r="2.45" fill="#000000" fill-opacity="0.45" stroke="#000000" stroke-opacity="0.72" stroke-width="1.0"/>
<circle cx="147.93" cy="211.54" r="2.45" fill="#000000" fill-opacity="0.45" stroke="#000000" stroke-opacity="0.72" stroke-width="1.0"/>
<circle cx="154.79" cy="220.94" r="2.45" fill="#000000" fill-opacity="0.45" stroke="#000000" stroke-opacity="0.72" stroke-width="1.0"/>
<circle cx="161.64" cy="232.34" r="2.45" fill="#000000" fill-opacity="0.45" stroke="#000000" stroke-opacity="0.72" stroke-width="1.0"/>
<circle cx="168.50" cy="245.59" r="2.45" fill="#000000" fill-opacity="0.45" stroke="#000000" stroke-opacity="0.72" stroke-width="1.0"/>
<circle cx="175.35" cy="267.40" r="2.45" fill="#000000" fill-opacity="0.45" stroke="#000000" stroke-opacity="0.72" stroke-width="1.0"/>
<circle cx="182.21" cy="288.92" r="2.45" fill="#000000" fill-opacity="0.45" stroke="#000000" stroke-opacity="0.72" stroke-width="1.0"/>
<circle cx="189.06" cy="308.58" r="2.45" fill="#000000" fill-opacity="0.45" stroke="#000000" stroke-opacity="0.72" stroke-width="1.0"/>
<circle cx="195.92" cy="321.69" r="2.45" fill="#000000" fill-opacity="0.45" stroke="#000000" stroke-opacity="0.72" stroke-width="1.0"/>
<circle cx="202.77" cy="331.95" r="2.45" fill="#000000" fill-opacity="0.45" stroke="#000000" stroke-opacity="0.72" stroke-width="1.0"/>
<circle cx="209.62" cy="335.65" r="2.45" fill="#000000" fill-opacity="0.45" stroke="#000000" stroke-opacity="0.72" stroke-width="1.0"/>
<circle cx="216.48" cy="337.79" r="2.45" fill="#000000" fill-opacity="0.45" stroke="#000000" stroke-opacity="0.72" stroke-width="1.0"/>
<circle cx="223.33" cy="339.22" r="2.45" fill="#000000" fill-opacity="0.45" stroke="#000000" stroke-opacity="0.72" stroke-width="1.0"/>
<circle cx="230.19" cy="339.22" r="2.45" fill="#000000" fill-opacity="0.45" stroke="#000000" stroke-opacity="0.72" stroke-width="1.0"/>
<path d="M35.2,339.6 L45.3,337.9 L55.4,334.3 L65.5,327.0 L75.6,314.2 L85.6,294.7 L95.7,268.8 L105.8,240.1 L115.9,214.4 L126.0,198.5 L136.0,197.3 L146.1,211.1 L156.2,235.6 L166.3,264.4 L176.4,291.0 L186.4,311.6 L196.5,325.4 L206.6,333.4 L216.7,337.5 L226.8,339.4" fill="none" stroke="#ff0000" stroke-width="1.6" stroke-dasharray="4.4 1.9" stroke-linejoin="round"/>
<path d="M35.2,332.9 L45.3,326.8 L55.4,317.6 L65.5,304.5 L75.6,287.4 L85.6,267.3 L95.7,245.8 L105.8,225.7 L115.9,210.1 L126.0,201.7 L136.0,202.0 L146.1,211.0 L156.2,227.0 L166.3,247.3 L176.4,268.8 L186.4,288.8 L196.5,305.6 L206.6,318.4 L216.7,327.4 L226.8,333.2" fill="none" stroke="#0000ff" stroke-width="1.6" stroke-dasharray="4.4 1.9" stroke-linejoin="round"/>
<path d="M31.4,338.5 L38.3,337.0 L45.1,334.6 L52.0,331.0 L58.8,325.7 L65.7,318.4 L72.5,308.6 L79.4,296.4 L86.2,281.8 L93.1,265.4 L100.0,248.2 L106.8,231.4 L113.7,216.5 L120.5,205.1 L127.4,198.4 L134.2,197.1 L141.1,201.3 L147.9,210.7 L154.8,224.2 L161.6,240.2 L168.5,257.4 L175.4,274.3 L182.2,289.9 L189.1,303.2 L195.9,314.1 L202.8,322.6 L209.6,328.8 L216.5,333.1 L223.3,336.1 L230.2,337.9" fill="none" stroke="#000000" stroke-width="1.6" stroke-dasharray="4.4 1.9" stroke-linejoin="round"/>
</g>
<rect x="30.2" y="190.0" width="201.60" height="156.80" fill="none" stroke="#555" stroke-width="1.25"/>
<line x1="50.36" y1="346.8" x2="50.36" y2="349.8" stroke="#555" stroke-width="1.1"/>
<text x="50.36" y="358.80" font-size="8.32" textLength="11.57" lengthAdjust="spacingAndGlyphs" text-anchor="middle" fill="#000" stroke="#000" stroke-width="0.12">−4</text>
<line x1="90.68" y1="346.8" x2="90.68" y2="349.8" stroke="#555" stroke-width="1.1"/>
<text x="90.68" y="358.80" font-size="8.32" textLength="11.57" lengthAdjust="spacingAndGlyphs" text-anchor="middle" fill="#000" stroke="#000" stroke-width="0.12">−2</text>
<line x1="131.00" y1="346.8" x2="131.00" y2="349.8" stroke="#555" stroke-width="1.1"/>
<text x="131.00" y="358.80" font-size="8.32" textLength="4.99" lengthAdjust="spacingAndGlyphs" text-anchor="middle" fill="#000" stroke="#000" stroke-width="0.12">0</text>
<line x1="171.32" y1="346.8" x2="171.32" y2="349.8" stroke="#555" stroke-width="1.1"/>
<text x="171.32" y="358.80" font-size="8.32" textLength="4.99" lengthAdjust="spacingAndGlyphs" text-anchor="middle" fill="#000" stroke="#000" stroke-width="0.12">2</text>
<line x1="211.64" y1="346.8" x2="211.64" y2="349.8" stroke="#555" stroke-width="1.1"/>
<text x="211.64" y="358.80" font-size="8.32" textLength="4.99" lengthAdjust="spacingAndGlyphs" text-anchor="middle" fill="#000" stroke="#000" stroke-width="0.12">4</text>
<line x1="27.2" y1="340.50" x2="30.2" y2="340.50" stroke="#555" stroke-width="1.1"/>
<text x="24.10" y="343.80" font-size="8.32" textLength="12.48" lengthAdjust="spacingAndGlyphs" text-anchor="end" fill="#000" stroke="#000" stroke-width="0.12">0.0</text>
<line x1="27.2" y1="312.00" x2="30.2" y2="312.00" stroke="#555" stroke-width="1.1"/>
<text x="24.10" y="315.30" font-size="8.32" textLength="12.48" lengthAdjust="spacingAndGlyphs" text-anchor="end" fill="#000" stroke="#000" stroke-width="0.12">0.2</text>
<line x1="27.2" y1="283.50" x2="30.2" y2="283.50" stroke="#555" stroke-width="1.1"/>
<text x="24.10" y="286.80" font-size="8.32" textLength="12.48" lengthAdjust="spacingAndGlyphs" text-anchor="end" fill="#000" stroke="#000" stroke-width="0.12">0.4</text>
<line x1="27.2" y1="255.00" x2="30.2" y2="255.00" stroke="#555" stroke-width="1.1"/>
<text x="24.10" y="258.30" font-size="8.32" textLength="12.48" lengthAdjust="spacingAndGlyphs" text-anchor="end" fill="#000" stroke="#000" stroke-width="0.12">0.6</text>
<line x1="27.2" y1="226.50" x2="30.2" y2="226.50" stroke="#555" stroke-width="1.1"/>
<text x="24.10" y="229.80" font-size="8.32" textLength="12.48" lengthAdjust="spacingAndGlyphs" text-anchor="end" fill="#000" stroke="#000" stroke-width="0.12">0.8</text>
<line x1="27.2" y1="198.00" x2="30.2" y2="198.00" stroke="#555" stroke-width="1.1"/>
<text x="24.10" y="201.30" font-size="8.32" textLength="12.48" lengthAdjust="spacingAndGlyphs" text-anchor="end" fill="#000" stroke="#000" stroke-width="0.12">1.0</text>
<text x="131.00" y="369.80" font-size="8.32" textLength="47.82" lengthAdjust="spacingAndGlyphs" text-anchor="middle" fill="#000" stroke="#000" stroke-width="0.12">Depth [mm]</text>
<text transform="translate(6.80,268.60) rotate(-90)" x="0" y="0" text-anchor="middle" font-size="8.32" textLength="58.72" lengthAdjust="spacingAndGlyphs" fill="#000" stroke="#000" stroke-width="0.12">Intensity [a.u.]</text>
<text x="45.10" y="207.70" font-size="8.32" textLength="9.99" lengthAdjust="spacingAndGlyphs" fill="#000" stroke="#000" stroke-width="0.12">11</text>
<text x="54.70" y="212.00" font-size="12.19" textLength="8.03" lengthAdjust="spacingAndGlyphs" font-style="italic" fill="#000" stroke="#000" stroke-width="0.12">C</text>
<text x="67.70" y="212.00" font-size="11.98" textLength="29.51" lengthAdjust="spacingAndGlyphs" fill="#000" stroke="#000" stroke-width="0.12">Achr.</text>
<rect x="81.9" y="303.4" width="98.8" height="39" rx="2.2" ry="2.2" fill="#fff" fill-opacity="0.8" stroke="#d0d0d0" stroke-width="0.9"/>
<circle cx="93.20" cy="310.20" r="2.2" fill="#ff0000" fill-opacity="0.45" stroke="#ff0000" stroke-opacity="0.72" stroke-width="0.8"/>
<text x="107.80" y="312.60" font-size="8.37" textLength="17.93" lengthAdjust="spacingAndGlyphs" fill="#000" stroke="#000" stroke-width="0.12">Ann.</text>
<text x="128.24" y="312.60" font-size="8.37" textLength="5.49" lengthAdjust="spacingAndGlyphs" font-style="italic" fill="#000" stroke="#000" stroke-width="0.12">R</text>
<text x="134.33" y="309.54" font-size="5.71" textLength="3.43" lengthAdjust="spacingAndGlyphs" fill="#000" stroke="#000" stroke-width="0.12">2</text>
<text x="137.76" y="312.60" font-size="8.37" textLength="22.76" lengthAdjust="spacingAndGlyphs" fill="#000" stroke="#000" stroke-width="0.12">: 1.00</text>
<circle cx="93.20" cy="322.90" r="2.2" fill="#0000ff" fill-opacity="0.45" stroke="#0000ff" stroke-opacity="0.72" stroke-width="0.8"/>
<text x="107.80" y="325.30" font-size="8.37" textLength="34.29" lengthAdjust="spacingAndGlyphs" fill="#000" stroke="#000" stroke-width="0.12">PET Exp.</text>
<text x="144.60" y="325.30" font-size="8.37" textLength="5.49" lengthAdjust="spacingAndGlyphs" font-style="italic" fill="#000" stroke="#000" stroke-width="0.12">R</text>
<text x="150.69" y="322.24" font-size="5.71" textLength="3.43" lengthAdjust="spacingAndGlyphs" fill="#000" stroke="#000" stroke-width="0.12">2</text>
<text x="154.11" y="325.30" font-size="8.37" textLength="22.76" lengthAdjust="spacingAndGlyphs" fill="#000" stroke="#000" stroke-width="0.12">: 0.97</text>
<circle cx="93.20" cy="335.60" r="2.2" fill="#000000" fill-opacity="0.45" stroke="#000000" stroke-opacity="0.72" stroke-width="0.8"/>
<text x="107.80" y="338.00" font-size="8.37" textLength="34.51" lengthAdjust="spacingAndGlyphs" fill="#000" stroke="#000" stroke-width="0.12">PET Sim.</text>
<text x="144.82" y="338.00" font-size="8.37" textLength="5.49" lengthAdjust="spacingAndGlyphs" font-style="italic" fill="#000" stroke="#000" stroke-width="0.12">R</text>
<text x="150.91" y="334.94" font-size="5.71" textLength="3.43" lengthAdjust="spacingAndGlyphs" fill="#000" stroke="#000" stroke-width="0.12">2</text>
<text x="154.34" y="338.00" font-size="8.37" textLength="22.76" lengthAdjust="spacingAndGlyphs" fill="#000" stroke="#000" stroke-width="0.12">: 0.99</text>
<g clip-path="url(#cBR)">
<circle cx="272.46" cy="338.82" r="2.45" fill="#ff0000" fill-opacity="0.45" stroke="#ff0000" stroke-opacity="0.72" stroke-width="1.0"/>
<circle cx="279.37" cy="335.00" r="2.45" fill="#ff0000" fill-opacity="0.45" stroke="#ff0000" stroke-opacity="0.72" stroke-width="1.0"/>
<circle cx="286.28" cy="331.18" r="2.45" fill="#ff0000" fill-opacity="0.45" stroke="#ff0000" stroke-opacity="0.72" stroke-width="1.0"/>
<circle cx="293.18" cy="325.82" r="2.45" fill="#ff0000" fill-opacity="0.45" stroke="#ff0000" stroke-opacity="0.72" stroke-width="1.0"/>
<circle cx="300.09" cy="317.56" r="2.45" fill="#ff0000" fill-opacity="0.45" stroke="#ff0000" stroke-opacity="0.72" stroke-width="1.0"/>
<circle cx="307.00" cy="305.93" r="2.45" fill="#ff0000" fill-opacity="0.45" stroke="#ff0000" stroke-opacity="0.72" stroke-width="1.0"/>
<circle cx="313.91" cy="291.85" r="2.45" fill="#ff0000" fill-opacity="0.45" stroke="#ff0000" stroke-opacity="0.72" stroke-width="1.0"/>
<circle cx="320.82" cy="278.85" r="2.45" fill="#ff0000" fill-opacity="0.45" stroke="#ff0000" stroke-opacity="0.72" stroke-width="1.0"/>
<circle cx="327.72" cy="257.74" r="2.45" fill="#ff0000" fill-opacity="0.45" stroke="#ff0000" stroke-opacity="0.72" stroke-width="1.0"/>
<circle cx="334.63" cy="243.66" r="2.45" fill="#ff0000" fill-opacity="0.45" stroke="#ff0000" stroke-opacity="0.72" stroke-width="1.0"/>
<circle cx="341.54" cy="225.15" r="2.45" fill="#ff0000" fill-opacity="0.45" stroke="#ff0000" stroke-opacity="0.72" stroke-width="1.0"/>
<circle cx="348.45" cy="218.57" r="2.45" fill="#ff0000" fill-opacity="0.45" stroke="#ff0000" stroke-opacity="0.72" stroke-width="1.0"/>
<circle cx="355.36" cy="209.85" r="2.45" fill="#ff0000" fill-opacity="0.45" stroke="#ff0000" stroke-opacity="0.72" stroke-width="1.0"/>
<circle cx="362.26" cy="204.03" r="2.45" fill="#ff0000" fill-opacity="0.45" stroke="#ff0000" stroke-opacity="0.72" stroke-width="1.0"/>
<circle cx="369.17" cy="210.61" r="2.45" fill="#ff0000" fill-opacity="0.45" stroke="#ff0000" stroke-opacity="0.72" stroke-width="1.0"/>
<circle cx="376.08" cy="204.95" r="2.45" fill="#ff0000" fill-opacity="0.45" stroke="#ff0000" stroke-opacity="0.72" stroke-width="1.0"/>
<circle cx="382.99" cy="208.93" r="2.45" fill="#ff0000" fill-opacity="0.45" stroke="#ff0000" stroke-opacity="0.72" stroke-width="1.0"/>
<circle cx="389.90" cy="213.67" r="2.45" fill="#ff0000" fill-opacity="0.45" stroke="#ff0000" stroke-opacity="0.72" stroke-width="1.0"/>
<circle cx="396.80" cy="218.57" r="2.45" fill="#ff0000" fill-opacity="0.45" stroke="#ff0000" stroke-opacity="0.72" stroke-width="1.0"/>
<circle cx="403.71" cy="227.44" r="2.45" fill="#ff0000" fill-opacity="0.45" stroke="#ff0000" stroke-opacity="0.72" stroke-width="1.0"/>
<circle cx="410.62" cy="243.66" r="2.45" fill="#ff0000" fill-opacity="0.45" stroke="#ff0000" stroke-opacity="0.72" stroke-width="1.0"/>
<circle cx="417.53" cy="258.19" r="2.45" fill="#ff0000" fill-opacity="0.45" stroke="#ff0000" stroke-opacity="0.72" stroke-width="1.0"/>
<circle cx="424.44" cy="271.05" r="2.45" fill="#ff0000" fill-opacity="0.45" stroke="#ff0000" stroke-opacity="0.72" stroke-width="1.0"/>
<circle cx="431.34" cy="290.32" r="2.45" fill="#ff0000" fill-opacity="0.45" stroke="#ff0000" stroke-opacity="0.72" stroke-width="1.0"/>
<circle cx="438.25" cy="305.93" r="2.45" fill="#ff0000" fill-opacity="0.45" stroke="#ff0000" stroke-opacity="0.72" stroke-width="1.0"/>
<circle cx="445.16" cy="314.96" r="2.45" fill="#ff0000" fill-opacity="0.45" stroke="#ff0000" stroke-opacity="0.72" stroke-width="1.0"/>
<circle cx="452.07" cy="325.36" r="2.45" fill="#ff0000" fill-opacity="0.45" stroke="#ff0000" stroke-opacity="0.72" stroke-width="1.0"/>
<circle cx="458.98" cy="333.32" r="2.45" fill="#ff0000" fill-opacity="0.45" stroke="#ff0000" stroke-opacity="0.72" stroke-width="1.0"/>
<circle cx="465.88" cy="336.53" r="2.45" fill="#ff0000" fill-opacity="0.45" stroke="#ff0000" stroke-opacity="0.72" stroke-width="1.0"/>
<circle cx="472.79" cy="339.13" r="2.45" fill="#ff0000" fill-opacity="0.45" stroke="#ff0000" stroke-opacity="0.72" stroke-width="1.0"/>
<circle cx="277.44" cy="337.91" r="2.45" fill="#0000ff" fill-opacity="0.45" stroke="#0000ff" stroke-opacity="0.72" stroke-width="1.0"/>
<circle cx="287.50" cy="331.33" r="2.45" fill="#0000ff" fill-opacity="0.45" stroke="#0000ff" stroke-opacity="0.72" stroke-width="1.0"/>
<circle cx="297.58" cy="322.45" r="2.45" fill="#0000ff" fill-opacity="0.45" stroke="#0000ff" stroke-opacity="0.72" stroke-width="1.0"/>
<circle cx="307.65" cy="311.29" r="2.45" fill="#0000ff" fill-opacity="0.45" stroke="#0000ff" stroke-opacity="0.72" stroke-width="1.0"/>
<circle cx="317.72" cy="296.75" r="2.45" fill="#0000ff" fill-opacity="0.45" stroke="#0000ff" stroke-opacity="0.72" stroke-width="1.0"/>
<circle cx="327.79" cy="278.08" r="2.45" fill="#0000ff" fill-opacity="0.45" stroke="#0000ff" stroke-opacity="0.72" stroke-width="1.0"/>
<circle cx="337.86" cy="254.83" r="2.45" fill="#0000ff" fill-opacity="0.45" stroke="#0000ff" stroke-opacity="0.72" stroke-width="1.0"/>
<circle cx="347.93" cy="235.55" r="2.45" fill="#0000ff" fill-opacity="0.45" stroke="#0000ff" stroke-opacity="0.72" stroke-width="1.0"/>
<circle cx="358.00" cy="223.92" r="2.45" fill="#0000ff" fill-opacity="0.45" stroke="#0000ff" stroke-opacity="0.72" stroke-width="1.0"/>
<circle cx="368.06" cy="210.61" r="2.45" fill="#0000ff" fill-opacity="0.45" stroke="#0000ff" stroke-opacity="0.72" stroke-width="1.0"/>
<circle cx="378.14" cy="203.42" r="2.45" fill="#0000ff" fill-opacity="0.45" stroke="#0000ff" stroke-opacity="0.72" stroke-width="1.0"/>
<circle cx="388.21" cy="196.84" r="2.45" fill="#0000ff" fill-opacity="0.45" stroke="#0000ff" stroke-opacity="0.72" stroke-width="1.0"/>
<circle cx="398.28" cy="213.06" r="2.45" fill="#0000ff" fill-opacity="0.45" stroke="#0000ff" stroke-opacity="0.72" stroke-width="1.0"/>
<circle cx="408.35" cy="240.75" r="2.45" fill="#0000ff" fill-opacity="0.45" stroke="#0000ff" stroke-opacity="0.72" stroke-width="1.0"/>
<circle cx="418.42" cy="266.15" r="2.45" fill="#0000ff" fill-opacity="0.45" stroke="#0000ff" stroke-opacity="0.72" stroke-width="1.0"/>
<circle cx="428.49" cy="284.36" r="2.45" fill="#0000ff" fill-opacity="0.45" stroke="#0000ff" stroke-opacity="0.72" stroke-width="1.0"/>
<circle cx="438.56" cy="298.43" r="2.45" fill="#0000ff" fill-opacity="0.45" stroke="#0000ff" stroke-opacity="0.72" stroke-width="1.0"/>
<circle cx="448.62" cy="309.14" r="2.45" fill="#0000ff" fill-opacity="0.45" stroke="#0000ff" stroke-opacity="0.72" stroke-width="1.0"/>
<circle cx="458.70" cy="319.39" r="2.45" fill="#0000ff" fill-opacity="0.45" stroke="#0000ff" stroke-opacity="0.72" stroke-width="1.0"/>
<circle cx="468.77" cy="322.61" r="2.45" fill="#0000ff" fill-opacity="0.45" stroke="#0000ff" stroke-opacity="0.72" stroke-width="1.0"/>
<circle cx="279.05" cy="328.57" r="2.45" fill="#000000" fill-opacity="0.45" stroke="#000000" stroke-opacity="0.72" stroke-width="1.0"/>
<circle cx="289.12" cy="321.08" r="2.45" fill="#000000" fill-opacity="0.45" stroke="#000000" stroke-opacity="0.72" stroke-width="1.0"/>
<circle cx="299.19" cy="310.37" r="2.45" fill="#000000" fill-opacity="0.45" stroke="#000000" stroke-opacity="0.72" stroke-width="1.0"/>
<circle cx="309.26" cy="296.29" r="2.45" fill="#000000" fill-opacity="0.45" stroke="#000000" stroke-opacity="0.72" stroke-width="1.0"/>
<circle cx="319.33" cy="278.08" r="2.45" fill="#000000" fill-opacity="0.45" stroke="#000000" stroke-opacity="0.72" stroke-width="1.0"/>
<circle cx="329.40" cy="260.64" r="2.45" fill="#000000" fill-opacity="0.45" stroke="#000000" stroke-opacity="0.72" stroke-width="1.0"/>
<circle cx="339.47" cy="241.98" r="2.45" fill="#000000" fill-opacity="0.45" stroke="#000000" stroke-opacity="0.72" stroke-width="1.0"/>
<circle cx="349.54" cy="223.92" r="2.45" fill="#000000" fill-opacity="0.45" stroke="#000000" stroke-opacity="0.72" stroke-width="1.0"/>
<circle cx="359.61" cy="207.40" r="2.45" fill="#000000" fill-opacity="0.45" stroke="#000000" stroke-opacity="0.72" stroke-width="1.0"/>
<circle cx="369.68" cy="197.30" r="2.45" fill="#000000" fill-opacity="0.45" stroke="#000000" stroke-opacity="0.72" stroke-width="1.0"/>
<circle cx="379.75" cy="197.76" r="2.45" fill="#000000" fill-opacity="0.45" stroke="#000000" stroke-opacity="0.72" stroke-width="1.0"/>
<circle cx="389.82" cy="208.93" r="2.45" fill="#000000" fill-opacity="0.45" stroke="#000000" stroke-opacity="0.72" stroke-width="1.0"/>
<circle cx="399.89" cy="226.83" r="2.45" fill="#000000" fill-opacity="0.45" stroke="#000000" stroke-opacity="0.72" stroke-width="1.0"/>
<circle cx="409.96" cy="246.87" r="2.45" fill="#000000" fill-opacity="0.45" stroke="#000000" stroke-opacity="0.72" stroke-width="1.0"/>
<circle cx="420.03" cy="266.15" r="2.45" fill="#000000" fill-opacity="0.45" stroke="#000000" stroke-opacity="0.72" stroke-width="1.0"/>
<circle cx="430.10" cy="286.35" r="2.45" fill="#000000" fill-opacity="0.45" stroke="#000000" stroke-opacity="0.72" stroke-width="1.0"/>
<circle cx="440.17" cy="303.79" r="2.45" fill="#000000" fill-opacity="0.45" stroke="#000000" stroke-opacity="0.72" stroke-width="1.0"/>
<circle cx="450.24" cy="319.39" r="2.45" fill="#000000" fill-opacity="0.45" stroke="#000000" stroke-opacity="0.72" stroke-width="1.0"/>
<circle cx="460.31" cy="330.10" r="2.45" fill="#000000" fill-opacity="0.45" stroke="#000000" stroke-opacity="0.72" stroke-width="1.0"/>
<circle cx="470.38" cy="335.46" r="2.45" fill="#000000" fill-opacity="0.45" stroke="#000000" stroke-opacity="0.72" stroke-width="1.0"/>
<path d="M272.5,340.2 L279.4,335.8 L286.3,330.0 L293.2,322.7 L300.1,313.6 L307.0,302.9 L313.9,290.6 L320.8,276.9 L327.7,262.5 L334.6,247.9 L341.5,233.9 L348.4,221.3 L355.4,211.0 L362.3,203.8 L369.2,200.1 L376.1,200.2 L383.0,204.2 L389.9,211.6 L396.8,222.1 L403.7,234.7 L410.6,248.8 L417.5,263.4 L424.4,277.9 L431.3,291.4 L438.3,303.7 L445.2,314.3 L452.1,323.2 L459.0,330.4 L465.9,336.1 L472.8,340.4" fill="none" stroke="#ff0000" stroke-width="1.6" stroke-dasharray="4.4 1.9" stroke-linejoin="round"/>
<path d="M277.4,340.6 L287.5,334.1 L297.6,324.6 L307.6,311.6 L317.7,295.2 L327.8,276.0 L337.9,255.4 L347.9,235.6 L358.0,219.0 L368.1,208.0 L378.1,204.3 L388.2,208.4 L398.3,219.7 L408.3,236.5 L418.4,256.5 L428.5,277.0 L438.6,296.1 L448.6,312.3 L458.7,325.1 L468.8,334.5" fill="none" stroke="#0000ff" stroke-width="1.6" stroke-dasharray="4.4 1.9" stroke-linejoin="round"/>
<path d="M279.0,334.5 L289.1,325.3 L299.2,312.9 L309.3,297.0 L319.3,278.2 L329.4,257.8 L339.5,237.6 L349.5,219.9 L359.6,207.0 L369.7,200.8 L379.7,202.3 L389.8,211.1 L399.9,226.0 L410.0,244.9 L420.0,265.5 L430.1,285.5 L440.2,303.3 L450.2,317.9 L460.3,329.1 L470.4,337.1" fill="none" stroke="#000000" stroke-width="1.6" stroke-dasharray="4.4 1.9" stroke-linejoin="round"/>
</g>
<rect x="272.4" y="190.0" width="201.40" height="156.60" fill="none" stroke="#555" stroke-width="1.25"/>
<line x1="292.54" y1="346.6" x2="292.54" y2="349.6" stroke="#555" stroke-width="1.1"/>
<text x="292.54" y="358.60" font-size="8.32" textLength="11.57" lengthAdjust="spacingAndGlyphs" text-anchor="middle" fill="#000" stroke="#000" stroke-width="0.12">−4</text>
<line x1="332.82" y1="346.6" x2="332.82" y2="349.6" stroke="#555" stroke-width="1.1"/>
<text x="332.82" y="358.60" font-size="8.32" textLength="11.57" lengthAdjust="spacingAndGlyphs" text-anchor="middle" fill="#000" stroke="#000" stroke-width="0.12">−2</text>
<line x1="373.10" y1="346.6" x2="373.10" y2="349.6" stroke="#555" stroke-width="1.1"/>
<text x="373.10" y="358.60" font-size="8.32" textLength="4.99" lengthAdjust="spacingAndGlyphs" text-anchor="middle" fill="#000" stroke="#000" stroke-width="0.12">0</text>
<line x1="413.38" y1="346.6" x2="413.38" y2="349.6" stroke="#555" stroke-width="1.1"/>
<text x="413.38" y="358.60" font-size="8.32" textLength="4.99" lengthAdjust="spacingAndGlyphs" text-anchor="middle" fill="#000" stroke="#000" stroke-width="0.12">2</text>
<line x1="453.66" y1="346.6" x2="453.66" y2="349.6" stroke="#555" stroke-width="1.1"/>
<text x="453.66" y="358.60" font-size="8.32" textLength="4.99" lengthAdjust="spacingAndGlyphs" text-anchor="middle" fill="#000" stroke="#000" stroke-width="0.12">4</text>
<line x1="269.4" y1="319.70" x2="272.4" y2="319.70" stroke="#555" stroke-width="1.1"/>
<text x="266.30" y="323.00" font-size="8.32" textLength="12.48" lengthAdjust="spacingAndGlyphs" text-anchor="end" fill="#000" stroke="#000" stroke-width="0.12">0.2</text>
<line x1="269.4" y1="289.10" x2="272.4" y2="289.10" stroke="#555" stroke-width="1.1"/>
<text x="266.30" y="292.40" font-size="8.32" textLength="12.48" lengthAdjust="spacingAndGlyphs" text-anchor="end" fill="#000" stroke="#000" stroke-width="0.12">0.4</text>
<line x1="269.4" y1="258.50" x2="272.4" y2="258.50" stroke="#555" stroke-width="1.1"/>
<text x="266.30" y="261.80" font-size="8.32" textLength="12.48" lengthAdjust="spacingAndGlyphs" text-anchor="end" fill="#000" stroke="#000" stroke-width="0.12">0.6</text>
<line x1="269.4" y1="227.90" x2="272.4" y2="227.90" stroke="#555" stroke-width="1.1"/>
<text x="266.30" y="231.20" font-size="8.32" textLength="12.48" lengthAdjust="spacingAndGlyphs" text-anchor="end" fill="#000" stroke="#000" stroke-width="0.12">0.8</text>
<line x1="269.4" y1="197.30" x2="272.4" y2="197.30" stroke="#555" stroke-width="1.1"/>
<text x="266.30" y="200.60" font-size="8.32" textLength="12.48" lengthAdjust="spacingAndGlyphs" text-anchor="end" fill="#000" stroke="#000" stroke-width="0.12">1.0</text>
<text x="373.10" y="369.60" font-size="8.32" textLength="47.82" lengthAdjust="spacingAndGlyphs" text-anchor="middle" fill="#000" stroke="#000" stroke-width="0.12">Depth [mm]</text>
<text transform="translate(249.00,268.50) rotate(-90)" x="0" y="0" text-anchor="middle" font-size="8.32" textLength="58.72" lengthAdjust="spacingAndGlyphs" fill="#000" stroke="#000" stroke-width="0.12">Intensity [a.u.]</text>
<text x="287.30" y="207.70" font-size="8.32" textLength="9.99" lengthAdjust="spacingAndGlyphs" fill="#000" stroke="#000" stroke-width="0.12">10</text>
<text x="296.90" y="212.00" font-size="12.19" textLength="8.03" lengthAdjust="spacingAndGlyphs" font-style="italic" fill="#000" stroke="#000" stroke-width="0.12">C</text>
<text x="309.90" y="212.00" font-size="11.98" textLength="29.51" lengthAdjust="spacingAndGlyphs" fill="#000" stroke="#000" stroke-width="0.12">Achr.</text>
<rect x="323.2" y="303.9" width="98.8" height="39" rx="2.2" ry="2.2" fill="#fff" fill-opacity="0.8" stroke="#d0d0d0" stroke-width="0.9"/>
<circle cx="334.50" cy="310.70" r="2.2" fill="#ff0000" fill-opacity="0.45" stroke="#ff0000" stroke-opacity="0.72" stroke-width="0.8"/>
<text x="349.10" y="313.10" font-size="8.37" textLength="17.93" lengthAdjust="spacingAndGlyphs" fill="#000" stroke="#000" stroke-width="0.12">Ann.</text>
<text x="369.54" y="313.10" font-size="8.37" textLength="5.49" lengthAdjust="spacingAndGlyphs" font-style="italic" fill="#000" stroke="#000" stroke-width="0.12">R</text>
<text x="375.63" y="310.04" font-size="5.71" textLength="3.43" lengthAdjust="spacingAndGlyphs" fill="#000" stroke="#000" stroke-width="0.12">2</text>
<text x="379.06" y="313.10" font-size="8.37" textLength="22.76" lengthAdjust="spacingAndGlyphs" fill="#000" stroke="#000" stroke-width="0.12">: 0.99</text>
<circle cx="334.50" cy="323.40" r="2.2" fill="#0000ff" fill-opacity="0.45" stroke="#0000ff" stroke-opacity="0.72" stroke-width="0.8"/>
<text x="349.10" y="325.80" font-size="8.37" textLength="34.29" lengthAdjust="spacingAndGlyphs" fill="#000" stroke="#000" stroke-width="0.12">PET Exp.</text>
<text x="385.90" y="325.80" font-size="8.37" textLength="5.49" lengthAdjust="spacingAndGlyphs" font-style="italic" fill="#000" stroke="#000" stroke-width="0.12">R</text>
<text x="391.99" y="322.74" font-size="5.71" textLength="3.43" lengthAdjust="spacingAndGlyphs" fill="#000" stroke="#000" stroke-width="0.12">2</text>
<text x="395.41" y="325.80" font-size="8.37" textLength="22.76" lengthAdjust="spacingAndGlyphs" fill="#000" stroke="#000" stroke-width="0.12">: 0.99</text>
<circle cx="334.50" cy="336.10" r="2.2" fill="#000000" fill-opacity="0.45" stroke="#000000" stroke-opacity="0.72" stroke-width="0.8"/>
<text x="349.10" y="338.50" font-size="8.37" textLength="34.51" lengthAdjust="spacingAndGlyphs" fill="#000" stroke="#000" stroke-width="0.12">PET Sim.</text>
<text x="386.12" y="338.50" font-size="8.37" textLength="5.49" lengthAdjust="spacingAndGlyphs" font-style="italic" fill="#000" stroke="#000" stroke-width="0.12">R</text>
<text x="392.21" y="335.44" font-size="5.71" textLength="3.43" lengthAdjust="spacingAndGlyphs" fill="#000" stroke="#000" stroke-width="0.12">2</text>
<text x="395.64" y="338.50" font-size="8.37" textLength="22.76" lengthAdjust="spacingAndGlyphs" fill="#000" stroke="#000" stroke-width="0.12">: 1.00</text>
</svg>
</body></html>
